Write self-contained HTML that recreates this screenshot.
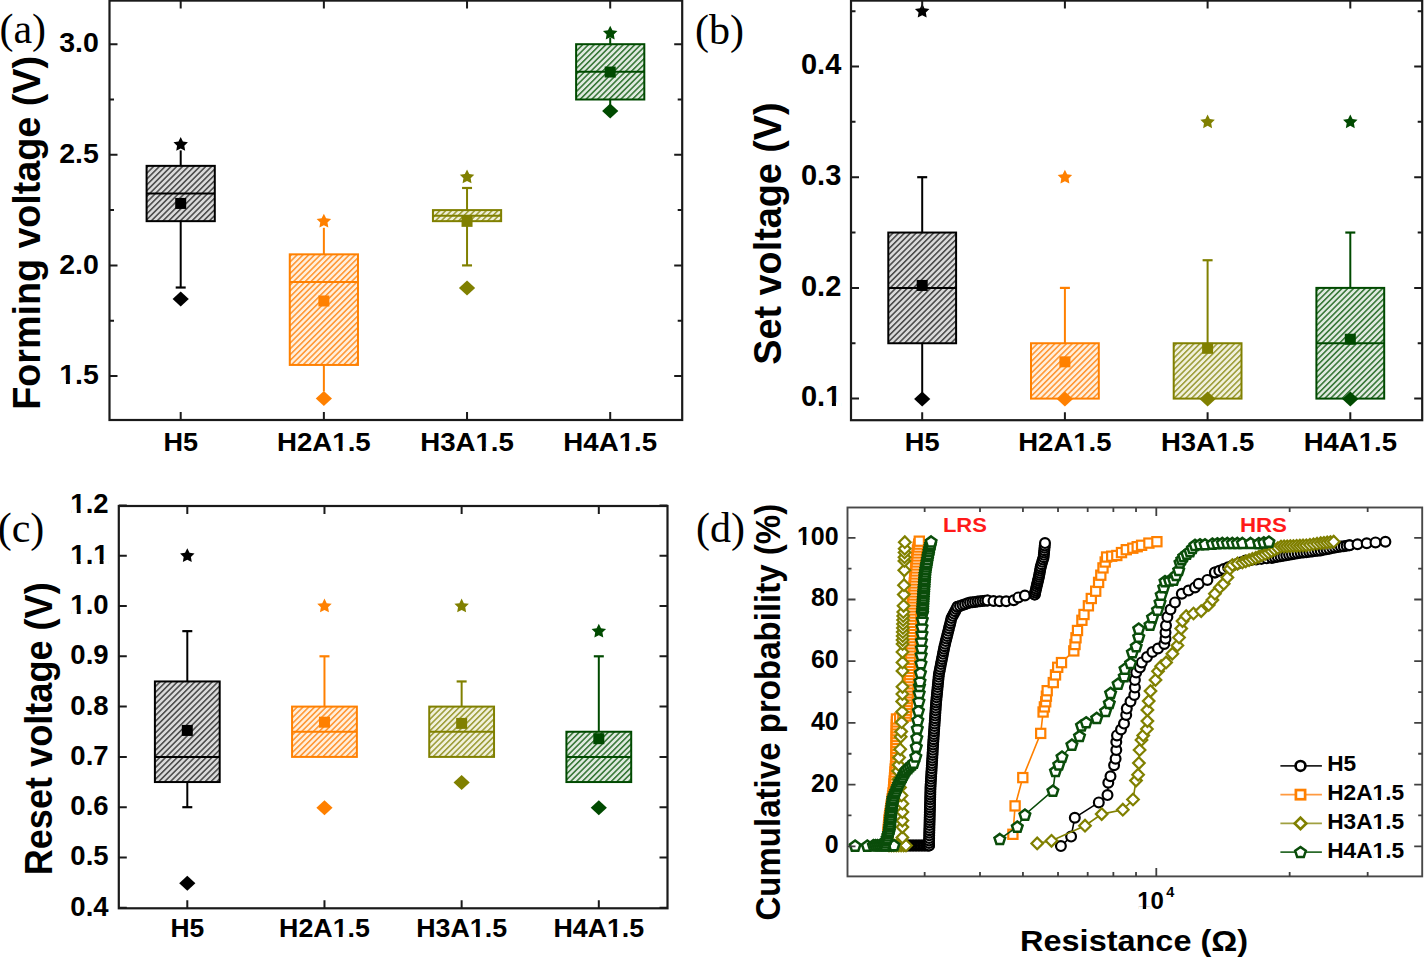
<!DOCTYPE html>
<html><head><meta charset="utf-8"><title>Figure</title>
<style>html,body{margin:0;padding:0;background:#fff;}svg{display:block;}</style>
</head><body>
<svg width="1425" height="961" viewBox="0 0 1425 961">
<rect width="1425" height="961" fill="#fff"/>
<defs>
<pattern id="hk" patternUnits="userSpaceOnUse" width="4.1" height="4.1" patternTransform="rotate(45)"><rect width="4.1" height="4.1" fill="#dadada"/><rect x="0" y="0" width="1.55" height="4.1" fill="#4a4a4a"/></pattern>
<pattern id="ho" patternUnits="userSpaceOnUse" width="4.1" height="4.1" patternTransform="rotate(45)"><rect width="4.1" height="4.1" fill="#ffefdc"/><rect x="0" y="0" width="1.55" height="4.1" fill="#ff9633"/></pattern>
<pattern id="hl" patternUnits="userSpaceOnUse" width="4.1" height="4.1" patternTransform="rotate(45)"><rect width="4.1" height="4.1" fill="#f1f1dc"/><rect x="0" y="0" width="1.55" height="4.1" fill="#9c9c38"/></pattern>
<pattern id="hg" patternUnits="userSpaceOnUse" width="4.1" height="4.1" patternTransform="rotate(45)"><rect width="4.1" height="4.1" fill="#e0eae0"/><rect x="0" y="0" width="1.55" height="4.1" fill="#357535"/></pattern>
</defs>
<g font-family='"Liberation Sans", sans-serif' font-weight="bold" fill="#000">
<line x1="180.7" y1="165.86" x2="180.7" y2="150.38" stroke="#000000" stroke-width="2"/>
<line x1="180.7" y1="221.16" x2="180.7" y2="287.52" stroke="#000000" stroke-width="2"/>
<line x1="175.7" y1="287.52" x2="185.7" y2="287.52" stroke="#000000" stroke-width="2.2"/>
<rect x="146.6" y="165.86" width="68.2" height="55.3" fill="url(#hk)" stroke="#000000" stroke-width="2"/>
<line x1="146.6" y1="193.51" x2="214.8" y2="193.51" stroke="#000000" stroke-width="2"/>
<rect x="175.2" y="197.94" width="11" height="11" fill="#000000"/>
<path d="M180.7,137 L182.93,141.53 L187.93,142.26 L184.31,145.78 L185.17,150.75 L180.7,148.4 L176.23,150.75 L177.09,145.78 L173.47,142.26 L178.47,141.53Z" fill="#000000"/>
<path d="M180.7,291.58 L188.8,299.08 L180.7,306.58 L172.6,299.08 Z" fill="#000000"/>
<line x1="323.87" y1="254.34" x2="323.87" y2="227.8" stroke="#FF8000" stroke-width="2"/>
<line x1="323.87" y1="364.94" x2="323.87" y2="391.48" stroke="#FF8000" stroke-width="2"/>
<rect x="289.77" y="254.34" width="68.2" height="110.6" fill="url(#ho)" stroke="#FF8000" stroke-width="2"/>
<line x1="289.77" y1="281.99" x2="357.97" y2="281.99" stroke="#FF8000" stroke-width="2"/>
<rect x="318.37" y="295.49" width="11" height="11" fill="#FF8000"/>
<path d="M323.87,213.76 L326.1,218.29 L331.1,219.01 L327.48,222.53 L328.34,227.51 L323.87,225.16 L319.4,227.51 L320.26,222.53 L316.64,219.01 L321.64,218.29Z" fill="#FF8000"/>
<path d="M323.87,391.12 L331.97,398.62 L323.87,406.12 L315.77,398.62 Z" fill="#FF8000"/>
<line x1="467.04" y1="210.1" x2="467.04" y2="187.98" stroke="#808000" stroke-width="2"/>
<line x1="462.04" y1="187.98" x2="472.04" y2="187.98" stroke="#808000" stroke-width="2.2"/>
<line x1="467.04" y1="221.16" x2="467.04" y2="265.4" stroke="#808000" stroke-width="2"/>
<line x1="462.04" y1="265.4" x2="472.04" y2="265.4" stroke="#808000" stroke-width="2.2"/>
<rect x="432.94" y="210.1" width="68.2" height="11.06" fill="url(#hl)" stroke="#808000" stroke-width="2"/>
<line x1="432.94" y1="215.63" x2="501.14" y2="215.63" stroke="#808000" stroke-width="2"/>
<rect x="461.54" y="215.86" width="11" height="11" fill="#808000"/>
<path d="M467.04,169.52 L469.27,174.05 L474.27,174.77 L470.65,178.29 L471.51,183.27 L467.04,180.92 L462.57,183.27 L463.43,178.29 L459.81,174.77 L464.81,174.05Z" fill="#808000"/>
<path d="M467.04,280.52 L475.14,288.02 L467.04,295.52 L458.94,288.02 Z" fill="#808000"/>
<line x1="610.21" y1="44.2" x2="610.21" y2="37.56" stroke="#004A00" stroke-width="2"/>
<line x1="610.21" y1="99.5" x2="610.21" y2="106.14" stroke="#004A00" stroke-width="2"/>
<rect x="576.11" y="44.2" width="68.2" height="55.3" fill="url(#hg)" stroke="#004A00" stroke-width="2"/>
<line x1="576.11" y1="71.85" x2="644.31" y2="71.85" stroke="#004A00" stroke-width="2"/>
<rect x="604.71" y="66.55" width="11" height="11" fill="#004A00"/>
<path d="M610.21,25.74 L612.44,30.27 L617.44,30.99 L613.82,34.51 L614.68,39.49 L610.21,37.14 L605.74,39.49 L606.6,34.51 L602.98,30.99 L607.98,30.27Z" fill="#004A00"/>
<path d="M610.21,103.56 L618.31,111.06 L610.21,118.56 L602.11,111.06 Z" fill="#004A00"/>
<rect x="109.5" y="0.6" width="572.7" height="419.4" fill="none" stroke="#1a1a1a" stroke-width="2.2"/>
<path d="M109.5,376h8M682.2,376h-8M109.5,265.4h8M682.2,265.4h-8M109.5,154.8h8M682.2,154.8h-8M109.5,44.2h8M682.2,44.2h-8M109.5,320.7h4.5M682.2,320.7h-4.5M109.5,210.1h4.5M682.2,210.1h-4.5M109.5,99.5h4.5M682.2,99.5h-4.5M180.7,420v-8M180.7,0.6v8M323.87,420v-8M323.87,0.6v8M467.04,420v-8M467.04,0.6v8M610.21,420v-8M610.21,0.6v8" stroke="#1a1a1a" stroke-width="2" fill="none"/>
<text x="98.9" y="384.1" font-size="28.5" text-anchor="end">1.5</text>
<text x="98.9" y="273.5" font-size="28.5" text-anchor="end">2.0</text>
<text x="98.9" y="162.9" font-size="28.5" text-anchor="end">2.5</text>
<text x="98.9" y="52.3" font-size="28.5" text-anchor="end">3.0</text>
<text x="180.7" y="450.9" font-size="26.5" text-anchor="middle" textLength="34.6" lengthAdjust="spacingAndGlyphs">H5</text>
<text x="323.87" y="450.9" font-size="26.5" text-anchor="middle" textLength="93.7" lengthAdjust="spacingAndGlyphs">H2A1.5</text>
<text x="467.04" y="450.9" font-size="26.5" text-anchor="middle" textLength="93.7" lengthAdjust="spacingAndGlyphs">H3A1.5</text>
<text x="610.21" y="450.9" font-size="26.5" text-anchor="middle" textLength="93.7" lengthAdjust="spacingAndGlyphs">H4A1.5</text>
<text transform="translate(39.6,232.9) rotate(-90)" x="0" y="0" font-size="39.5" text-anchor="middle" textLength="353.7" lengthAdjust="spacingAndGlyphs">Forming voltage (V)</text>
<line x1="922.2" y1="232.55" x2="922.2" y2="177.2" stroke="#000000" stroke-width="2"/>
<line x1="917.2" y1="177.2" x2="927.2" y2="177.2" stroke="#000000" stroke-width="2.2"/>
<line x1="922.2" y1="343.25" x2="922.2" y2="393.07" stroke="#000000" stroke-width="2"/>
<rect x="888.3" y="232.55" width="67.8" height="110.7" fill="url(#hk)" stroke="#000000" stroke-width="2"/>
<line x1="888.3" y1="287.9" x2="956.1" y2="287.9" stroke="#000000" stroke-width="2"/>
<rect x="916.7" y="279.94" width="11" height="11" fill="#000000"/>
<path d="M922.2,3.75 L924.43,8.28 L929.43,9 L925.81,12.52 L926.67,17.5 L922.2,15.15 L917.73,17.5 L918.59,12.52 L914.97,9 L919.97,8.28Z" fill="#000000"/>
<path d="M922.2,391.6 L930.3,399.1 L922.2,406.6 L914.1,399.1 Z" fill="#000000"/>
<line x1="1064.9" y1="343.25" x2="1064.9" y2="287.9" stroke="#FF8000" stroke-width="2"/>
<line x1="1059.9" y1="287.9" x2="1069.9" y2="287.9" stroke="#FF8000" stroke-width="2.2"/>
<rect x="1031" y="343.25" width="67.8" height="55.35" fill="url(#ho)" stroke="#FF8000" stroke-width="2"/>
<rect x="1059.4" y="356.33" width="11" height="11" fill="#FF8000"/>
<path d="M1064.9,169.8 L1067.13,174.33 L1072.13,175.05 L1068.51,178.57 L1069.37,183.55 L1064.9,181.2 L1060.43,183.55 L1061.29,178.57 L1057.67,175.05 L1062.67,174.33Z" fill="#FF8000"/>
<path d="M1064.9,391.6 L1073,399.1 L1064.9,406.6 L1056.8,399.1 Z" fill="#FF8000"/>
<line x1="1207.6" y1="343.25" x2="1207.6" y2="260.23" stroke="#808000" stroke-width="2"/>
<line x1="1202.6" y1="260.23" x2="1212.6" y2="260.23" stroke="#808000" stroke-width="2.2"/>
<rect x="1173.7" y="343.25" width="67.8" height="55.35" fill="url(#hl)" stroke="#808000" stroke-width="2"/>
<rect x="1202.1" y="342.82" width="11" height="11" fill="#808000"/>
<path d="M1207.6,114.45 L1209.83,118.98 L1214.83,119.7 L1211.21,123.22 L1212.07,128.2 L1207.6,125.85 L1203.13,128.2 L1203.99,123.22 L1200.37,119.7 L1205.37,118.98Z" fill="#808000"/>
<path d="M1207.6,391.6 L1215.7,399.1 L1207.6,406.6 L1199.5,399.1 Z" fill="#808000"/>
<line x1="1350.3" y1="287.9" x2="1350.3" y2="232.55" stroke="#004A00" stroke-width="2"/>
<line x1="1345.3" y1="232.55" x2="1355.3" y2="232.55" stroke="#004A00" stroke-width="2.2"/>
<rect x="1316.4" y="287.9" width="67.8" height="110.7" fill="url(#hg)" stroke="#004A00" stroke-width="2"/>
<line x1="1316.4" y1="343.25" x2="1384.2" y2="343.25" stroke="#004A00" stroke-width="2"/>
<rect x="1344.8" y="333.74" width="11" height="11" fill="#004A00"/>
<path d="M1350.3,114.45 L1352.53,118.98 L1357.53,119.7 L1353.91,123.22 L1354.77,128.2 L1350.3,125.85 L1345.83,128.2 L1346.69,123.22 L1343.07,119.7 L1348.07,118.98Z" fill="#004A00"/>
<path d="M1350.3,391.6 L1358.4,399.1 L1350.3,406.6 L1342.2,399.1 Z" fill="#004A00"/>
<rect x="851" y="0.6" width="571.2" height="419.6" fill="none" stroke="#1a1a1a" stroke-width="2.2"/>
<path d="M851,398.6h8M1422.2,398.6h-8M851,287.9h8M1422.2,287.9h-8M851,177.2h8M1422.2,177.2h-8M851,66.5h8M1422.2,66.5h-8M851,343.25h4.5M1422.2,343.25h-4.5M851,232.55h4.5M1422.2,232.55h-4.5M851,121.85h4.5M1422.2,121.85h-4.5M851,11.15h4.5M1422.2,11.15h-4.5M922.2,420.2v-8M922.2,0.6v8M1064.9,420.2v-8M1064.9,0.6v8M1207.6,420.2v-8M1207.6,0.6v8M1350.3,420.2v-8M1350.3,0.6v8" stroke="#1a1a1a" stroke-width="2" fill="none"/>
<text x="841.3" y="406.4" font-size="29" text-anchor="end">0.1</text>
<text x="841.3" y="295.7" font-size="29" text-anchor="end">0.2</text>
<text x="841.3" y="185" font-size="29" text-anchor="end">0.3</text>
<text x="841.3" y="74.3" font-size="29" text-anchor="end">0.4</text>
<text x="922.2" y="451.4" font-size="26.5" text-anchor="middle" textLength="34.8" lengthAdjust="spacingAndGlyphs">H5</text>
<text x="1064.9" y="451.4" font-size="26.5" text-anchor="middle" textLength="93.3" lengthAdjust="spacingAndGlyphs">H2A1.5</text>
<text x="1207.6" y="451.4" font-size="26.5" text-anchor="middle" textLength="93.3" lengthAdjust="spacingAndGlyphs">H3A1.5</text>
<text x="1350.3" y="451.4" font-size="26.5" text-anchor="middle" textLength="93.3" lengthAdjust="spacingAndGlyphs">H4A1.5</text>
<text transform="translate(781.2,233.55) rotate(-90)" x="0" y="0" font-size="39.5" text-anchor="middle" textLength="262.3" lengthAdjust="spacingAndGlyphs">Set voltage (V)</text>
<line x1="187.3" y1="681.45" x2="187.3" y2="631.15" stroke="#000000" stroke-width="2"/>
<line x1="182.3" y1="631.15" x2="192.3" y2="631.15" stroke="#000000" stroke-width="2.2"/>
<line x1="187.3" y1="782.05" x2="187.3" y2="807.2" stroke="#000000" stroke-width="2"/>
<line x1="182.3" y1="807.2" x2="192.3" y2="807.2" stroke="#000000" stroke-width="2.2"/>
<rect x="154.9" y="681.45" width="64.8" height="100.6" fill="url(#hk)" stroke="#000000" stroke-width="2"/>
<line x1="154.9" y1="756.9" x2="219.7" y2="756.9" stroke="#000000" stroke-width="2"/>
<rect x="181.8" y="724.94" width="11" height="11" fill="#000000"/>
<path d="M187.3,548.3 L189.53,552.83 L194.53,553.55 L190.91,557.07 L191.77,562.05 L187.3,559.7 L182.83,562.05 L183.69,557.07 L180.07,553.55 L185.07,552.83Z" fill="#000000"/>
<path d="M187.3,875.65 L195.4,883.15 L187.3,890.65 L179.2,883.15 Z" fill="#000000"/>
<line x1="324.47" y1="706.6" x2="324.47" y2="656.3" stroke="#FF8000" stroke-width="2"/>
<line x1="319.47" y1="656.3" x2="329.47" y2="656.3" stroke="#FF8000" stroke-width="2.2"/>
<rect x="292.07" y="706.6" width="64.8" height="50.3" fill="url(#ho)" stroke="#FF8000" stroke-width="2"/>
<line x1="292.07" y1="731.75" x2="356.87" y2="731.75" stroke="#FF8000" stroke-width="2"/>
<rect x="318.97" y="716.69" width="11" height="11" fill="#FF8000"/>
<path d="M324.47,598.6 L326.7,603.13 L331.7,603.85 L328.08,607.37 L328.94,612.35 L324.47,610 L320,612.35 L320.86,607.37 L317.24,603.85 L322.24,603.13Z" fill="#FF8000"/>
<path d="M324.47,800.2 L332.57,807.7 L324.47,815.2 L316.37,807.7 Z" fill="#FF8000"/>
<line x1="461.64" y1="706.6" x2="461.64" y2="681.45" stroke="#808000" stroke-width="2"/>
<line x1="456.64" y1="681.45" x2="466.64" y2="681.45" stroke="#808000" stroke-width="2.2"/>
<rect x="429.24" y="706.6" width="64.8" height="50.3" fill="url(#hl)" stroke="#808000" stroke-width="2"/>
<line x1="429.24" y1="731.75" x2="494.04" y2="731.75" stroke="#808000" stroke-width="2"/>
<rect x="456.14" y="717.9" width="11" height="11" fill="#808000"/>
<path d="M461.64,598.6 L463.87,603.13 L468.87,603.85 L465.25,607.37 L466.11,612.35 L461.64,610 L457.17,612.35 L458.03,607.37 L454.41,603.85 L459.41,603.13Z" fill="#808000"/>
<path d="M461.64,775.05 L469.74,782.55 L461.64,790.05 L453.54,782.55 Z" fill="#808000"/>
<line x1="598.81" y1="731.75" x2="598.81" y2="656.3" stroke="#004A00" stroke-width="2"/>
<line x1="593.81" y1="656.3" x2="603.81" y2="656.3" stroke="#004A00" stroke-width="2.2"/>
<rect x="566.41" y="731.75" width="64.8" height="50.3" fill="url(#hg)" stroke="#004A00" stroke-width="2"/>
<line x1="566.41" y1="756.9" x2="631.21" y2="756.9" stroke="#004A00" stroke-width="2"/>
<rect x="593.31" y="733.19" width="11" height="11" fill="#004A00"/>
<path d="M598.81,623.75 L601.04,628.28 L606.04,629 L602.42,632.52 L603.28,637.5 L598.81,635.15 L594.34,637.5 L595.2,632.52 L591.58,629 L596.58,628.28Z" fill="#004A00"/>
<path d="M598.81,800.2 L606.91,807.7 L598.81,815.2 L590.71,807.7 Z" fill="#004A00"/>
<rect x="118.8" y="506" width="548.7" height="402.3" fill="none" stroke="#1a1a1a" stroke-width="2.2"/>
<path d="M118.8,907.8h8M667.5,907.8h-8M118.8,857.5h8M667.5,857.5h-8M118.8,807.2h8M667.5,807.2h-8M118.8,756.9h8M667.5,756.9h-8M118.8,706.6h8M667.5,706.6h-8M118.8,656.3h8M667.5,656.3h-8M118.8,606h8M667.5,606h-8M118.8,555.7h8M667.5,555.7h-8M118.8,505.4h8M667.5,505.4h-8M187.3,908.3v-8M187.3,506v8M324.47,908.3v-8M324.47,506v8M461.64,908.3v-8M461.64,506v8M598.81,908.3v-8M598.81,506v8" stroke="#1a1a1a" stroke-width="2" fill="none"/>
<text x="108.6" y="915.7" font-size="27.5" text-anchor="end">0.4</text>
<text x="108.6" y="865.4" font-size="27.5" text-anchor="end">0.5</text>
<text x="108.6" y="815.1" font-size="27.5" text-anchor="end">0.6</text>
<text x="108.6" y="764.8" font-size="27.5" text-anchor="end">0.7</text>
<text x="108.6" y="714.5" font-size="27.5" text-anchor="end">0.8</text>
<text x="108.6" y="664.2" font-size="27.5" text-anchor="end">0.9</text>
<text x="108.6" y="613.9" font-size="27.5" text-anchor="end">1.0</text>
<text x="108.6" y="563.6" font-size="27.5" text-anchor="end">1.1</text>
<text x="108.6" y="513.3" font-size="27.5" text-anchor="end">1.2</text>
<text x="187.3" y="937.4" font-size="26" text-anchor="middle" textLength="33.8" lengthAdjust="spacingAndGlyphs">H5</text>
<text x="324.47" y="937.4" font-size="26" text-anchor="middle" textLength="90.8" lengthAdjust="spacingAndGlyphs">H2A1.5</text>
<text x="461.64" y="937.4" font-size="26" text-anchor="middle" textLength="90.8" lengthAdjust="spacingAndGlyphs">H3A1.5</text>
<text x="598.81" y="937.4" font-size="26" text-anchor="middle" textLength="90.8" lengthAdjust="spacingAndGlyphs">H4A1.5</text>
<text transform="translate(52.3,728.8) rotate(-90)" x="0" y="0" font-size="38" text-anchor="middle" textLength="293" lengthAdjust="spacingAndGlyphs">Reset voltage (V)</text>
</g>
<text x="-0.6" y="42.5" font-family='"Liberation Serif", serif' font-size="42" fill="#000">(a)</text>
<text x="695" y="44.4" font-family='"Liberation Serif", serif' font-size="42" fill="#000">(b)</text>
<text x="-2.3" y="541.6" font-family='"Liberation Serif", serif' font-size="42" fill="#000">(c)</text>
<text x="696" y="541.6" font-family='"Liberation Serif", serif' font-size="42" fill="#000">(d)</text>
<defs><clipPath id="dclip"><rect x="847.5" y="507.5" width="574.7" height="368.9"/></clipPath></defs>
<g clip-path="url(#dclip)">
<polyline points="904.5,845.5 929,845.5 929,845.5 929,843 930.5,786.8 933.3,741.8 936.1,702.5 938.9,674.3 944.5,646.2 951.5,618.1 957.5,606.8 957.5,606.8 970,602.5 987.5,600.4 987.5,600.4 993.5,601 999.6,601.2 1006.2,601.2 1013.7,600.2 1018.4,597.4 1024.9,595.5 1034.7,594.6 1034.7,594.6 1037.1,584.3 1038.9,576.8 1040.8,566.5 1043.6,557.2 1045,543.1" fill="none" stroke="#000" stroke-width="1.6"/>
<g fill="#fff" stroke="#000" stroke-width="2.2">
<circle cx="904.5" cy="845.5" r="4.9"/>
<circle cx="906.03" cy="845.5" r="4.9"/>
<circle cx="907.56" cy="845.5" r="4.9"/>
<circle cx="909.09" cy="845.5" r="4.9"/>
<circle cx="910.62" cy="845.5" r="4.9"/>
<circle cx="912.16" cy="845.5" r="4.9"/>
<circle cx="913.69" cy="845.5" r="4.9"/>
<circle cx="915.22" cy="845.5" r="4.9"/>
<circle cx="916.75" cy="845.5" r="4.9"/>
<circle cx="918.28" cy="845.5" r="4.9"/>
<circle cx="919.81" cy="845.5" r="4.9"/>
<circle cx="921.34" cy="845.5" r="4.9"/>
<circle cx="922.88" cy="845.5" r="4.9"/>
<circle cx="924.41" cy="845.5" r="4.9"/>
<circle cx="925.94" cy="845.5" r="4.9"/>
<circle cx="927.47" cy="845.5" r="4.9"/>
<circle cx="929" cy="845.5" r="4.9"/>
<circle cx="929" cy="845.5" r="4.9"/>
<circle cx="929" cy="843" r="4.9"/>
<circle cx="929.07" cy="840.45" r="4.9"/>
<circle cx="929.14" cy="837.89" r="4.9"/>
<circle cx="929.2" cy="835.34" r="4.9"/>
<circle cx="929.27" cy="832.78" r="4.9"/>
<circle cx="929.34" cy="830.23" r="4.9"/>
<circle cx="929.41" cy="827.67" r="4.9"/>
<circle cx="929.48" cy="825.12" r="4.9"/>
<circle cx="929.55" cy="822.56" r="4.9"/>
<circle cx="929.61" cy="820.01" r="4.9"/>
<circle cx="929.68" cy="817.45" r="4.9"/>
<circle cx="929.75" cy="814.9" r="4.9"/>
<circle cx="929.82" cy="812.35" r="4.9"/>
<circle cx="929.89" cy="809.79" r="4.9"/>
<circle cx="929.95" cy="807.24" r="4.9"/>
<circle cx="930.02" cy="804.68" r="4.9"/>
<circle cx="930.09" cy="802.13" r="4.9"/>
<circle cx="930.16" cy="799.57" r="4.9"/>
<circle cx="930.23" cy="797.02" r="4.9"/>
<circle cx="930.3" cy="794.46" r="4.9"/>
<circle cx="930.36" cy="791.91" r="4.9"/>
<circle cx="930.43" cy="789.35" r="4.9"/>
<circle cx="930.5" cy="786.8" r="4.9"/>
<circle cx="930.66" cy="784.15" r="4.9"/>
<circle cx="930.83" cy="781.51" r="4.9"/>
<circle cx="930.99" cy="778.86" r="4.9"/>
<circle cx="931.16" cy="776.21" r="4.9"/>
<circle cx="931.32" cy="773.56" r="4.9"/>
<circle cx="931.49" cy="770.92" r="4.9"/>
<circle cx="931.65" cy="768.27" r="4.9"/>
<circle cx="931.82" cy="765.62" r="4.9"/>
<circle cx="931.98" cy="762.98" r="4.9"/>
<circle cx="932.15" cy="760.33" r="4.9"/>
<circle cx="932.31" cy="757.68" r="4.9"/>
<circle cx="932.48" cy="755.04" r="4.9"/>
<circle cx="932.64" cy="752.39" r="4.9"/>
<circle cx="932.81" cy="749.74" r="4.9"/>
<circle cx="932.97" cy="747.09" r="4.9"/>
<circle cx="933.14" cy="744.45" r="4.9"/>
<circle cx="933.3" cy="741.8" r="4.9"/>
<circle cx="933.49" cy="739.18" r="4.9"/>
<circle cx="933.67" cy="736.56" r="4.9"/>
<circle cx="933.86" cy="733.94" r="4.9"/>
<circle cx="934.05" cy="731.32" r="4.9"/>
<circle cx="934.23" cy="728.7" r="4.9"/>
<circle cx="934.42" cy="726.08" r="4.9"/>
<circle cx="934.61" cy="723.46" r="4.9"/>
<circle cx="934.79" cy="720.84" r="4.9"/>
<circle cx="934.98" cy="718.22" r="4.9"/>
<circle cx="935.17" cy="715.6" r="4.9"/>
<circle cx="935.35" cy="712.98" r="4.9"/>
<circle cx="935.54" cy="710.36" r="4.9"/>
<circle cx="935.73" cy="707.74" r="4.9"/>
<circle cx="935.91" cy="705.12" r="4.9"/>
<circle cx="936.1" cy="702.5" r="4.9"/>
<circle cx="936.35" cy="699.94" r="4.9"/>
<circle cx="936.61" cy="697.37" r="4.9"/>
<circle cx="936.86" cy="694.81" r="4.9"/>
<circle cx="937.12" cy="692.25" r="4.9"/>
<circle cx="937.37" cy="689.68" r="4.9"/>
<circle cx="937.63" cy="687.12" r="4.9"/>
<circle cx="937.88" cy="684.55" r="4.9"/>
<circle cx="938.14" cy="681.99" r="4.9"/>
<circle cx="938.39" cy="679.43" r="4.9"/>
<circle cx="938.65" cy="676.86" r="4.9"/>
<circle cx="938.9" cy="674.3" r="4.9"/>
<circle cx="939.41" cy="671.75" r="4.9"/>
<circle cx="939.92" cy="669.19" r="4.9"/>
<circle cx="940.43" cy="666.64" r="4.9"/>
<circle cx="940.94" cy="664.08" r="4.9"/>
<circle cx="941.45" cy="661.53" r="4.9"/>
<circle cx="941.95" cy="658.97" r="4.9"/>
<circle cx="942.46" cy="656.42" r="4.9"/>
<circle cx="942.97" cy="653.86" r="4.9"/>
<circle cx="943.48" cy="651.31" r="4.9"/>
<circle cx="943.99" cy="648.75" r="4.9"/>
<circle cx="944.5" cy="646.2" r="4.9"/>
<circle cx="945.14" cy="643.65" r="4.9"/>
<circle cx="945.77" cy="641.09" r="4.9"/>
<circle cx="946.41" cy="638.54" r="4.9"/>
<circle cx="947.05" cy="635.98" r="4.9"/>
<circle cx="947.68" cy="633.43" r="4.9"/>
<circle cx="948.32" cy="630.87" r="4.9"/>
<circle cx="948.95" cy="628.32" r="4.9"/>
<circle cx="949.59" cy="625.76" r="4.9"/>
<circle cx="950.23" cy="623.21" r="4.9"/>
<circle cx="950.86" cy="620.65" r="4.9"/>
<circle cx="951.5" cy="618.1" r="4.9"/>
<circle cx="952.7" cy="615.84" r="4.9"/>
<circle cx="953.9" cy="613.58" r="4.9"/>
<circle cx="955.1" cy="611.32" r="4.9"/>
<circle cx="956.3" cy="609.06" r="4.9"/>
<circle cx="957.5" cy="606.8" r="4.9"/>
<circle cx="957.5" cy="606.8" r="4.9"/>
<circle cx="960" cy="605.94" r="4.9"/>
<circle cx="962.5" cy="605.08" r="4.9"/>
<circle cx="965" cy="604.22" r="4.9"/>
<circle cx="967.5" cy="603.36" r="4.9"/>
<circle cx="970" cy="602.5" r="4.9"/>
<circle cx="972.5" cy="602.2" r="4.9"/>
<circle cx="975" cy="601.9" r="4.9"/>
<circle cx="977.5" cy="601.6" r="4.9"/>
<circle cx="980" cy="601.3" r="4.9"/>
<circle cx="982.5" cy="601" r="4.9"/>
<circle cx="985" cy="600.7" r="4.9"/>
<circle cx="987.5" cy="600.4" r="4.9"/>
<circle cx="987.5" cy="600.4" r="4.9"/>
<circle cx="993.5" cy="601" r="4.9"/>
<circle cx="999.6" cy="601.2" r="4.9"/>
<circle cx="1006.2" cy="601.2" r="4.9"/>
<circle cx="1013.7" cy="600.2" r="4.9"/>
<circle cx="1018.4" cy="597.4" r="4.9"/>
<circle cx="1024.9" cy="595.5" r="4.9"/>
<circle cx="1034.7" cy="594.6" r="4.9"/>
<circle cx="1034.7" cy="594.6" r="4.9"/>
<circle cx="1035.18" cy="592.54" r="4.9"/>
<circle cx="1035.66" cy="590.48" r="4.9"/>
<circle cx="1036.14" cy="588.42" r="4.9"/>
<circle cx="1036.62" cy="586.36" r="4.9"/>
<circle cx="1037.1" cy="584.3" r="4.9"/>
<circle cx="1037.55" cy="582.42" r="4.9"/>
<circle cx="1038" cy="580.55" r="4.9"/>
<circle cx="1038.45" cy="578.67" r="4.9"/>
<circle cx="1038.9" cy="576.8" r="4.9"/>
<circle cx="1039.28" cy="574.74" r="4.9"/>
<circle cx="1039.66" cy="572.68" r="4.9"/>
<circle cx="1040.04" cy="570.62" r="4.9"/>
<circle cx="1040.42" cy="568.56" r="4.9"/>
<circle cx="1040.8" cy="566.5" r="4.9"/>
<circle cx="1041.5" cy="564.17" r="4.9"/>
<circle cx="1042.2" cy="561.85" r="4.9"/>
<circle cx="1042.9" cy="559.53" r="4.9"/>
<circle cx="1043.6" cy="557.2" r="4.9"/>
<circle cx="1043.83" cy="554.85" r="4.9"/>
<circle cx="1044.07" cy="552.5" r="4.9"/>
<circle cx="1044.3" cy="550.15" r="4.9"/>
<circle cx="1044.53" cy="547.8" r="4.9"/>
<circle cx="1044.77" cy="545.45" r="4.9"/>
<circle cx="1045" cy="543.1" r="4.9"/>
</g>
<polyline points="1060.9,846.1 1071.1,836.6 1074.8,817.7 1098.8,802.4 1107.5,795.1 1108.3,782.7 1110.5,776.2 1114.1,765.3 1115.6,758.7 1116.3,750 1116.3,742 1117,735.4 1121,729.5 1124,723.6 1126.2,714.9 1126.8,708.6 1130.5,701.5 1134.3,694.9 1134.9,687.4 1134.9,679.9 1136.2,672.4 1139.9,667.4 1141.8,662.4 1147,657 1152.4,652 1158,648.5 1164.3,644 1165.5,638.7 1165.5,632.5 1166,625.5 1167.4,617 1170.5,609.5 1175,602.4 1181.8,593.7 1188.5,590.5 1195,587.4 1198.7,583.7 1207.4,579.9 1214.9,572.4 1214.9,572.4 1245.7,560.5 1272,557.8 1272,557.8 1297.7,553.2 1320.7,550.4 1335.1,547.5 1349.5,545.3 1349.5,545.3 1357.5,544.2 1366.7,543.2 1375.5,542.4 1385.4,541.7" fill="none" stroke="#000" stroke-width="1.6"/>
<g fill="#fff" stroke="#000" stroke-width="2.2">
<circle cx="1060.9" cy="846.1" r="4.9"/>
<circle cx="1071.1" cy="836.6" r="4.9"/>
<circle cx="1074.8" cy="817.7" r="4.9"/>
<circle cx="1098.8" cy="802.4" r="4.9"/>
<circle cx="1107.5" cy="795.1" r="4.9"/>
<circle cx="1108.3" cy="782.7" r="4.9"/>
<circle cx="1110.5" cy="776.2" r="4.9"/>
<circle cx="1114.1" cy="765.3" r="4.9"/>
<circle cx="1115.6" cy="758.7" r="4.9"/>
<circle cx="1116.3" cy="750" r="4.9"/>
<circle cx="1116.3" cy="742" r="4.9"/>
<circle cx="1117" cy="735.4" r="4.9"/>
<circle cx="1121" cy="729.5" r="4.9"/>
<circle cx="1124" cy="723.6" r="4.9"/>
<circle cx="1126.2" cy="714.9" r="4.9"/>
<circle cx="1126.8" cy="708.6" r="4.9"/>
<circle cx="1130.5" cy="701.5" r="4.9"/>
<circle cx="1134.3" cy="694.9" r="4.9"/>
<circle cx="1134.9" cy="687.4" r="4.9"/>
<circle cx="1134.9" cy="679.9" r="4.9"/>
<circle cx="1136.2" cy="672.4" r="4.9"/>
<circle cx="1139.9" cy="667.4" r="4.9"/>
<circle cx="1141.8" cy="662.4" r="4.9"/>
<circle cx="1147" cy="657" r="4.9"/>
<circle cx="1152.4" cy="652" r="4.9"/>
<circle cx="1158" cy="648.5" r="4.9"/>
<circle cx="1164.3" cy="644" r="4.9"/>
<circle cx="1165.5" cy="638.7" r="4.9"/>
<circle cx="1165.5" cy="632.5" r="4.9"/>
<circle cx="1166" cy="625.5" r="4.9"/>
<circle cx="1167.4" cy="617" r="4.9"/>
<circle cx="1170.5" cy="609.5" r="4.9"/>
<circle cx="1175" cy="602.4" r="4.9"/>
<circle cx="1181.8" cy="593.7" r="4.9"/>
<circle cx="1188.5" cy="590.5" r="4.9"/>
<circle cx="1195" cy="587.4" r="4.9"/>
<circle cx="1198.7" cy="583.7" r="4.9"/>
<circle cx="1207.4" cy="579.9" r="4.9"/>
<circle cx="1214.9" cy="572.4" r="4.9"/>
<circle cx="1214.9" cy="572.4" r="4.9"/>
<circle cx="1219.3" cy="570.7" r="4.9"/>
<circle cx="1223.7" cy="569" r="4.9"/>
<circle cx="1228.1" cy="567.3" r="4.9"/>
<circle cx="1232.5" cy="565.6" r="4.9"/>
<circle cx="1236.9" cy="563.9" r="4.9"/>
<circle cx="1241.3" cy="562.2" r="4.9"/>
<circle cx="1245.7" cy="560.5" r="4.9"/>
<circle cx="1250.96" cy="559.96" r="4.9"/>
<circle cx="1256.22" cy="559.42" r="4.9"/>
<circle cx="1261.48" cy="558.88" r="4.9"/>
<circle cx="1266.74" cy="558.34" r="4.9"/>
<circle cx="1272" cy="557.8" r="4.9"/>
<circle cx="1272" cy="557.8" r="4.9"/>
<circle cx="1274.86" cy="557.29" r="4.9"/>
<circle cx="1277.71" cy="556.78" r="4.9"/>
<circle cx="1280.57" cy="556.27" r="4.9"/>
<circle cx="1283.42" cy="555.76" r="4.9"/>
<circle cx="1286.28" cy="555.24" r="4.9"/>
<circle cx="1289.13" cy="554.73" r="4.9"/>
<circle cx="1291.99" cy="554.22" r="4.9"/>
<circle cx="1294.84" cy="553.71" r="4.9"/>
<circle cx="1297.7" cy="553.2" r="4.9"/>
<circle cx="1300.58" cy="552.85" r="4.9"/>
<circle cx="1303.45" cy="552.5" r="4.9"/>
<circle cx="1306.33" cy="552.15" r="4.9"/>
<circle cx="1309.2" cy="551.8" r="4.9"/>
<circle cx="1312.08" cy="551.45" r="4.9"/>
<circle cx="1314.95" cy="551.1" r="4.9"/>
<circle cx="1317.83" cy="550.75" r="4.9"/>
<circle cx="1320.7" cy="550.4" r="4.9"/>
<circle cx="1323.58" cy="549.82" r="4.9"/>
<circle cx="1326.46" cy="549.24" r="4.9"/>
<circle cx="1329.34" cy="548.66" r="4.9"/>
<circle cx="1332.22" cy="548.08" r="4.9"/>
<circle cx="1335.1" cy="547.5" r="4.9"/>
<circle cx="1337.98" cy="547.06" r="4.9"/>
<circle cx="1340.86" cy="546.62" r="4.9"/>
<circle cx="1343.74" cy="546.18" r="4.9"/>
<circle cx="1346.62" cy="545.74" r="4.9"/>
<circle cx="1349.5" cy="545.3" r="4.9"/>
<circle cx="1349.5" cy="545.3" r="4.9"/>
<circle cx="1357.5" cy="544.2" r="4.9"/>
<circle cx="1366.7" cy="543.2" r="4.9"/>
<circle cx="1375.5" cy="542.4" r="4.9"/>
<circle cx="1385.4" cy="541.7" r="4.9"/>
</g>
<polyline points="887,845 889,820 893.5,790 896,760 896.5,719 906,716 908.5,690 910.9,650 911.8,610 914.6,580 917.5,550 919.3,541.2" fill="none" stroke="#FF8000" stroke-width="1.6"/>
<g fill="#fff" stroke="#FF8000" stroke-width="2.2">
<rect x="882.4" y="840.4" width="9.2" height="9.2"/>
<rect x="882.65" y="837.27" width="9.2" height="9.2"/>
<rect x="882.9" y="834.15" width="9.2" height="9.2"/>
<rect x="883.15" y="831.02" width="9.2" height="9.2"/>
<rect x="883.4" y="827.9" width="9.2" height="9.2"/>
<rect x="883.65" y="824.77" width="9.2" height="9.2"/>
<rect x="883.9" y="821.65" width="9.2" height="9.2"/>
<rect x="884.15" y="818.52" width="9.2" height="9.2"/>
<rect x="884.4" y="815.4" width="9.2" height="9.2"/>
<rect x="884.85" y="812.4" width="9.2" height="9.2"/>
<rect x="885.3" y="809.4" width="9.2" height="9.2"/>
<rect x="885.75" y="806.4" width="9.2" height="9.2"/>
<rect x="886.2" y="803.4" width="9.2" height="9.2"/>
<rect x="886.65" y="800.4" width="9.2" height="9.2"/>
<rect x="887.1" y="797.4" width="9.2" height="9.2"/>
<rect x="887.55" y="794.4" width="9.2" height="9.2"/>
<rect x="888" y="791.4" width="9.2" height="9.2"/>
<rect x="888.45" y="788.4" width="9.2" height="9.2"/>
<rect x="888.9" y="785.4" width="9.2" height="9.2"/>
<rect x="889.15" y="782.4" width="9.2" height="9.2"/>
<rect x="889.4" y="779.4" width="9.2" height="9.2"/>
<rect x="889.65" y="776.4" width="9.2" height="9.2"/>
<rect x="889.9" y="773.4" width="9.2" height="9.2"/>
<rect x="890.15" y="770.4" width="9.2" height="9.2"/>
<rect x="890.4" y="767.4" width="9.2" height="9.2"/>
<rect x="890.65" y="764.4" width="9.2" height="9.2"/>
<rect x="890.9" y="761.4" width="9.2" height="9.2"/>
<rect x="891.15" y="758.4" width="9.2" height="9.2"/>
<rect x="891.4" y="755.4" width="9.2" height="9.2"/>
<rect x="891.44" y="752.47" width="9.2" height="9.2"/>
<rect x="891.47" y="749.54" width="9.2" height="9.2"/>
<rect x="891.51" y="746.61" width="9.2" height="9.2"/>
<rect x="891.54" y="743.69" width="9.2" height="9.2"/>
<rect x="891.58" y="740.76" width="9.2" height="9.2"/>
<rect x="891.61" y="737.83" width="9.2" height="9.2"/>
<rect x="891.65" y="734.9" width="9.2" height="9.2"/>
<rect x="891.69" y="731.97" width="9.2" height="9.2"/>
<rect x="891.72" y="729.04" width="9.2" height="9.2"/>
<rect x="891.76" y="726.11" width="9.2" height="9.2"/>
<rect x="891.79" y="723.19" width="9.2" height="9.2"/>
<rect x="891.83" y="720.26" width="9.2" height="9.2"/>
<rect x="891.86" y="717.33" width="9.2" height="9.2"/>
<rect x="891.9" y="714.4" width="9.2" height="9.2"/>
<rect x="895.07" y="713.4" width="9.2" height="9.2"/>
<rect x="898.23" y="712.4" width="9.2" height="9.2"/>
<rect x="901.4" y="711.4" width="9.2" height="9.2"/>
<rect x="901.68" y="708.51" width="9.2" height="9.2"/>
<rect x="901.96" y="705.62" width="9.2" height="9.2"/>
<rect x="902.23" y="702.73" width="9.2" height="9.2"/>
<rect x="902.51" y="699.84" width="9.2" height="9.2"/>
<rect x="902.79" y="696.96" width="9.2" height="9.2"/>
<rect x="903.07" y="694.07" width="9.2" height="9.2"/>
<rect x="903.34" y="691.18" width="9.2" height="9.2"/>
<rect x="903.62" y="688.29" width="9.2" height="9.2"/>
<rect x="903.9" y="685.4" width="9.2" height="9.2"/>
<rect x="904.08" y="682.32" width="9.2" height="9.2"/>
<rect x="904.27" y="679.25" width="9.2" height="9.2"/>
<rect x="904.45" y="676.17" width="9.2" height="9.2"/>
<rect x="904.64" y="673.09" width="9.2" height="9.2"/>
<rect x="904.82" y="670.02" width="9.2" height="9.2"/>
<rect x="905.01" y="666.94" width="9.2" height="9.2"/>
<rect x="905.19" y="663.86" width="9.2" height="9.2"/>
<rect x="905.38" y="660.78" width="9.2" height="9.2"/>
<rect x="905.56" y="657.71" width="9.2" height="9.2"/>
<rect x="905.75" y="654.63" width="9.2" height="9.2"/>
<rect x="905.93" y="651.55" width="9.2" height="9.2"/>
<rect x="906.12" y="648.48" width="9.2" height="9.2"/>
<rect x="906.3" y="645.4" width="9.2" height="9.2"/>
<rect x="906.37" y="642.32" width="9.2" height="9.2"/>
<rect x="906.44" y="639.25" width="9.2" height="9.2"/>
<rect x="906.51" y="636.17" width="9.2" height="9.2"/>
<rect x="906.58" y="633.09" width="9.2" height="9.2"/>
<rect x="906.65" y="630.02" width="9.2" height="9.2"/>
<rect x="906.72" y="626.94" width="9.2" height="9.2"/>
<rect x="906.78" y="623.86" width="9.2" height="9.2"/>
<rect x="906.85" y="620.78" width="9.2" height="9.2"/>
<rect x="906.92" y="617.71" width="9.2" height="9.2"/>
<rect x="906.99" y="614.63" width="9.2" height="9.2"/>
<rect x="907.06" y="611.55" width="9.2" height="9.2"/>
<rect x="907.13" y="608.48" width="9.2" height="9.2"/>
<rect x="907.2" y="605.4" width="9.2" height="9.2"/>
<rect x="907.48" y="602.4" width="9.2" height="9.2"/>
<rect x="907.76" y="599.4" width="9.2" height="9.2"/>
<rect x="908.04" y="596.4" width="9.2" height="9.2"/>
<rect x="908.32" y="593.4" width="9.2" height="9.2"/>
<rect x="908.6" y="590.4" width="9.2" height="9.2"/>
<rect x="908.88" y="587.4" width="9.2" height="9.2"/>
<rect x="909.16" y="584.4" width="9.2" height="9.2"/>
<rect x="909.44" y="581.4" width="9.2" height="9.2"/>
<rect x="909.72" y="578.4" width="9.2" height="9.2"/>
<rect x="910" y="575.4" width="9.2" height="9.2"/>
<rect x="910.29" y="572.4" width="9.2" height="9.2"/>
<rect x="910.58" y="569.4" width="9.2" height="9.2"/>
<rect x="910.87" y="566.4" width="9.2" height="9.2"/>
<rect x="911.16" y="563.4" width="9.2" height="9.2"/>
<rect x="911.45" y="560.4" width="9.2" height="9.2"/>
<rect x="911.74" y="557.4" width="9.2" height="9.2"/>
<rect x="912.03" y="554.4" width="9.2" height="9.2"/>
<rect x="912.32" y="551.4" width="9.2" height="9.2"/>
<rect x="912.61" y="548.4" width="9.2" height="9.2"/>
<rect x="912.9" y="545.4" width="9.2" height="9.2"/>
<rect x="913.5" y="542.47" width="9.2" height="9.2"/>
<rect x="914.1" y="539.53" width="9.2" height="9.2"/>
<rect x="914.7" y="536.6" width="9.2" height="9.2"/>
</g>
<polyline points="1012.9,834.3 1015.1,805.9 1022.8,777.6 1040.7,733.4 1043.1,712 1044.4,706.9 1045.7,701.8 1046.4,696.2 1047.2,690.7 1053.3,682.6 1055.5,674.9 1057.7,667.3 1061.5,662.6 1073.8,650.9 1075,644.5 1076,637.8 1077.5,630.5 1081.9,620.3 1084,614.5 1088.4,605.8 1091.3,598.5 1095.7,591.2 1098.6,582.4 1100.8,575.2 1103,567.9 1105.2,562 1106.6,557 1111.7,556.2 1116.8,555.5 1121.5,552.6 1126.3,549.7 1132.8,548.2 1137.2,546.7 1141.6,545.3 1148.9,543.1 1156.9,541.7" fill="none" stroke="#FF8000" stroke-width="1.6"/>
<g fill="#fff" stroke="#FF8000" stroke-width="2.2">
<rect x="1008.3" y="829.7" width="9.2" height="9.2"/>
<rect x="1010.5" y="801.3" width="9.2" height="9.2"/>
<rect x="1018.2" y="773" width="9.2" height="9.2"/>
<rect x="1036.1" y="728.8" width="9.2" height="9.2"/>
<rect x="1038.5" y="707.4" width="9.2" height="9.2"/>
<rect x="1039.8" y="702.3" width="9.2" height="9.2"/>
<rect x="1041.1" y="697.2" width="9.2" height="9.2"/>
<rect x="1041.8" y="691.6" width="9.2" height="9.2"/>
<rect x="1042.6" y="686.1" width="9.2" height="9.2"/>
<rect x="1048.7" y="678" width="9.2" height="9.2"/>
<rect x="1050.9" y="670.3" width="9.2" height="9.2"/>
<rect x="1053.1" y="662.7" width="9.2" height="9.2"/>
<rect x="1056.9" y="658" width="9.2" height="9.2"/>
<rect x="1069.2" y="646.3" width="9.2" height="9.2"/>
<rect x="1070.4" y="639.9" width="9.2" height="9.2"/>
<rect x="1071.4" y="633.2" width="9.2" height="9.2"/>
<rect x="1072.9" y="625.9" width="9.2" height="9.2"/>
<rect x="1077.3" y="615.7" width="9.2" height="9.2"/>
<rect x="1079.4" y="609.9" width="9.2" height="9.2"/>
<rect x="1083.8" y="601.2" width="9.2" height="9.2"/>
<rect x="1086.7" y="593.9" width="9.2" height="9.2"/>
<rect x="1091.1" y="586.6" width="9.2" height="9.2"/>
<rect x="1094" y="577.8" width="9.2" height="9.2"/>
<rect x="1096.2" y="570.6" width="9.2" height="9.2"/>
<rect x="1098.4" y="563.3" width="9.2" height="9.2"/>
<rect x="1100.6" y="557.4" width="9.2" height="9.2"/>
<rect x="1102" y="552.4" width="9.2" height="9.2"/>
<rect x="1107.1" y="551.6" width="9.2" height="9.2"/>
<rect x="1112.2" y="550.9" width="9.2" height="9.2"/>
<rect x="1116.9" y="548" width="9.2" height="9.2"/>
<rect x="1121.7" y="545.1" width="9.2" height="9.2"/>
<rect x="1128.2" y="543.6" width="9.2" height="9.2"/>
<rect x="1132.6" y="542.1" width="9.2" height="9.2"/>
<rect x="1137" y="540.7" width="9.2" height="9.2"/>
<rect x="1144.3" y="538.5" width="9.2" height="9.2"/>
<rect x="1152.3" y="537.1" width="9.2" height="9.2"/>
</g>
<polyline points="889,845.5 906,845.5 902.4,837.4 902.4,827.1 902.4,820.6 902.4,812.1 902.4,803.7 901.5,795.5 900,787.5 898.7,779.3 898.1,771.1 898.6,764.9 899.1,757.6 900.2,749.3 900.7,736.8 901.2,731.6 901.7,722.2 902.2,711.8 902.2,701.4 902.4,694 902.5,686.8 902.5,670.9 902.5,662.4 902.5,652 902.6,644 902.6,640 902.7,636 902.8,632 902.9,628 903,624 903.1,620 903.2,616 903.3,612 903.6,605.8 903.8,594.6 904,585.2 904.3,570.3 904.4,560.9 904.5,557.2 904.6,552.5 904.7,548.7 904.8,542.2" fill="none" stroke="#808000" stroke-width="1.6"/>
<g fill="#fff" stroke="#808000" stroke-width="2.2">
<path d="M889,839.7 L894.8,845.5 L889,851.3 L883.2,845.5 Z"/>
<path d="M891.43,839.7 L897.23,845.5 L891.43,851.3 L885.63,845.5 Z"/>
<path d="M893.86,839.7 L899.66,845.5 L893.86,851.3 L888.06,845.5 Z"/>
<path d="M896.29,839.7 L902.09,845.5 L896.29,851.3 L890.49,845.5 Z"/>
<path d="M898.71,839.7 L904.51,845.5 L898.71,851.3 L892.91,845.5 Z"/>
<path d="M901.14,839.7 L906.94,845.5 L901.14,851.3 L895.34,845.5 Z"/>
<path d="M903.57,839.7 L909.37,845.5 L903.57,851.3 L897.77,845.5 Z"/>
<path d="M906,839.7 L911.8,845.5 L906,851.3 L900.2,845.5 Z"/>
<path d="M902.4,831.6 L908.2,837.4 L902.4,843.2 L896.6,837.4 Z"/>
<path d="M902.4,821.3 L908.2,827.1 L902.4,832.9 L896.6,827.1 Z"/>
<path d="M902.4,814.8 L908.2,820.6 L902.4,826.4 L896.6,820.6 Z"/>
<path d="M902.4,806.3 L908.2,812.1 L902.4,817.9 L896.6,812.1 Z"/>
<path d="M902.4,797.9 L908.2,803.7 L902.4,809.5 L896.6,803.7 Z"/>
<path d="M901.5,789.7 L907.3,795.5 L901.5,801.3 L895.7,795.5 Z"/>
<path d="M900,781.7 L905.8,787.5 L900,793.3 L894.2,787.5 Z"/>
<path d="M898.7,773.5 L904.5,779.3 L898.7,785.1 L892.9,779.3 Z"/>
<path d="M898.1,765.3 L903.9,771.1 L898.1,776.9 L892.3,771.1 Z"/>
<path d="M898.6,759.1 L904.4,764.9 L898.6,770.7 L892.8,764.9 Z"/>
<path d="M899.1,751.8 L904.9,757.6 L899.1,763.4 L893.3,757.6 Z"/>
<path d="M900.2,743.5 L906,749.3 L900.2,755.1 L894.4,749.3 Z"/>
<path d="M900.7,731 L906.5,736.8 L900.7,742.6 L894.9,736.8 Z"/>
<path d="M901.2,725.8 L907,731.6 L901.2,737.4 L895.4,731.6 Z"/>
<path d="M901.7,716.4 L907.5,722.2 L901.7,728 L895.9,722.2 Z"/>
<path d="M902.2,706 L908,711.8 L902.2,717.6 L896.4,711.8 Z"/>
<path d="M902.2,695.6 L908,701.4 L902.2,707.2 L896.4,701.4 Z"/>
<path d="M902.4,688.2 L908.2,694 L902.4,699.8 L896.6,694 Z"/>
<path d="M902.5,681 L908.3,686.8 L902.5,692.6 L896.7,686.8 Z"/>
<path d="M902.5,665.1 L908.3,670.9 L902.5,676.7 L896.7,670.9 Z"/>
<path d="M902.5,656.6 L908.3,662.4 L902.5,668.2 L896.7,662.4 Z"/>
<path d="M902.5,646.2 L908.3,652 L902.5,657.8 L896.7,652 Z"/>
<path d="M902.6,638.2 L908.4,644 L902.6,649.8 L896.8,644 Z"/>
<path d="M902.6,634.2 L908.4,640 L902.6,645.8 L896.8,640 Z"/>
<path d="M902.7,630.2 L908.5,636 L902.7,641.8 L896.9,636 Z"/>
<path d="M902.8,626.2 L908.6,632 L902.8,637.8 L897,632 Z"/>
<path d="M902.9,622.2 L908.7,628 L902.9,633.8 L897.1,628 Z"/>
<path d="M903,618.2 L908.8,624 L903,629.8 L897.2,624 Z"/>
<path d="M903.1,614.2 L908.9,620 L903.1,625.8 L897.3,620 Z"/>
<path d="M903.2,610.2 L909,616 L903.2,621.8 L897.4,616 Z"/>
<path d="M903.3,606.2 L909.1,612 L903.3,617.8 L897.5,612 Z"/>
<path d="M903.6,600 L909.4,605.8 L903.6,611.6 L897.8,605.8 Z"/>
<path d="M903.8,588.8 L909.6,594.6 L903.8,600.4 L898,594.6 Z"/>
<path d="M904,579.4 L909.8,585.2 L904,591 L898.2,585.2 Z"/>
<path d="M904.3,564.5 L910.1,570.3 L904.3,576.1 L898.5,570.3 Z"/>
<path d="M904.4,555.1 L910.2,560.9 L904.4,566.7 L898.6,560.9 Z"/>
<path d="M904.5,551.4 L910.3,557.2 L904.5,563 L898.7,557.2 Z"/>
<path d="M904.6,546.7 L910.4,552.5 L904.6,558.3 L898.8,552.5 Z"/>
<path d="M904.7,542.9 L910.5,548.7 L904.7,554.5 L898.9,548.7 Z"/>
<path d="M904.8,536.4 L910.6,542.2 L904.8,548 L899,542.2 Z"/>
</g>
<polyline points="1037.2,843.4 1051.5,840.8 1085,825.7 1101.7,814.1 1122.8,809.7 1133,799.5 1136,780.6 1138.1,774.7 1138.9,763.1 1139.6,750 1141.5,740 1143.2,735.4 1146.9,729 1147.4,721.1 1147.4,709.9 1148.7,701.1 1150.5,691.1 1155.5,679.9 1158,671.2 1161.2,666.2 1166.1,662.4 1172.4,653.7 1177.4,645.5 1179,637.5 1181.2,628.6 1182.5,621.1 1186.2,616.1 1193.5,613.5 1201.2,611.1 1208.7,604.9 1212.4,599.9 1214.9,593.7 1219.9,587.4 1223.7,583.7 1227.4,577.4 1229.9,568.7 1232.4,565 1237.5,563.6 1237.5,563.6 1242.4,562.5 1255.8,557.8 1268.4,552.7 1281,546.5 1293.4,546 1306.3,545.3 1320.7,543.2 1333.7,541.7" fill="none" stroke="#808000" stroke-width="1.6"/>
<g fill="#fff" stroke="#808000" stroke-width="2.2">
<path d="M1037.2,837.6 L1043,843.4 L1037.2,849.2 L1031.4,843.4 Z"/>
<path d="M1051.5,835 L1057.3,840.8 L1051.5,846.6 L1045.7,840.8 Z"/>
<path d="M1085,819.9 L1090.8,825.7 L1085,831.5 L1079.2,825.7 Z"/>
<path d="M1101.7,808.3 L1107.5,814.1 L1101.7,819.9 L1095.9,814.1 Z"/>
<path d="M1122.8,803.9 L1128.6,809.7 L1122.8,815.5 L1117,809.7 Z"/>
<path d="M1133,793.7 L1138.8,799.5 L1133,805.3 L1127.2,799.5 Z"/>
<path d="M1136,774.8 L1141.8,780.6 L1136,786.4 L1130.2,780.6 Z"/>
<path d="M1138.1,768.9 L1143.9,774.7 L1138.1,780.5 L1132.3,774.7 Z"/>
<path d="M1138.9,757.3 L1144.7,763.1 L1138.9,768.9 L1133.1,763.1 Z"/>
<path d="M1139.6,744.2 L1145.4,750 L1139.6,755.8 L1133.8,750 Z"/>
<path d="M1141.5,734.2 L1147.3,740 L1141.5,745.8 L1135.7,740 Z"/>
<path d="M1143.2,729.6 L1149,735.4 L1143.2,741.2 L1137.4,735.4 Z"/>
<path d="M1146.9,723.2 L1152.7,729 L1146.9,734.8 L1141.1,729 Z"/>
<path d="M1147.4,715.3 L1153.2,721.1 L1147.4,726.9 L1141.6,721.1 Z"/>
<path d="M1147.4,704.1 L1153.2,709.9 L1147.4,715.7 L1141.6,709.9 Z"/>
<path d="M1148.7,695.3 L1154.5,701.1 L1148.7,706.9 L1142.9,701.1 Z"/>
<path d="M1150.5,685.3 L1156.3,691.1 L1150.5,696.9 L1144.7,691.1 Z"/>
<path d="M1155.5,674.1 L1161.3,679.9 L1155.5,685.7 L1149.7,679.9 Z"/>
<path d="M1158,665.4 L1163.8,671.2 L1158,677 L1152.2,671.2 Z"/>
<path d="M1161.2,660.4 L1167,666.2 L1161.2,672 L1155.4,666.2 Z"/>
<path d="M1166.1,656.6 L1171.9,662.4 L1166.1,668.2 L1160.3,662.4 Z"/>
<path d="M1172.4,647.9 L1178.2,653.7 L1172.4,659.5 L1166.6,653.7 Z"/>
<path d="M1177.4,639.7 L1183.2,645.5 L1177.4,651.3 L1171.6,645.5 Z"/>
<path d="M1179,631.7 L1184.8,637.5 L1179,643.3 L1173.2,637.5 Z"/>
<path d="M1181.2,622.8 L1187,628.6 L1181.2,634.4 L1175.4,628.6 Z"/>
<path d="M1182.5,615.3 L1188.3,621.1 L1182.5,626.9 L1176.7,621.1 Z"/>
<path d="M1186.2,610.3 L1192,616.1 L1186.2,621.9 L1180.4,616.1 Z"/>
<path d="M1193.5,607.7 L1199.3,613.5 L1193.5,619.3 L1187.7,613.5 Z"/>
<path d="M1201.2,605.3 L1207,611.1 L1201.2,616.9 L1195.4,611.1 Z"/>
<path d="M1208.7,599.1 L1214.5,604.9 L1208.7,610.7 L1202.9,604.9 Z"/>
<path d="M1212.4,594.1 L1218.2,599.9 L1212.4,605.7 L1206.6,599.9 Z"/>
<path d="M1214.9,587.9 L1220.7,593.7 L1214.9,599.5 L1209.1,593.7 Z"/>
<path d="M1219.9,581.6 L1225.7,587.4 L1219.9,593.2 L1214.1,587.4 Z"/>
<path d="M1223.7,577.9 L1229.5,583.7 L1223.7,589.5 L1217.9,583.7 Z"/>
<path d="M1227.4,571.6 L1233.2,577.4 L1227.4,583.2 L1221.6,577.4 Z"/>
<path d="M1229.9,562.9 L1235.7,568.7 L1229.9,574.5 L1224.1,568.7 Z"/>
<path d="M1232.4,559.2 L1238.2,565 L1232.4,570.8 L1226.6,565 Z"/>
<path d="M1237.5,557.8 L1243.3,563.6 L1237.5,569.4 L1231.7,563.6 Z"/>
<path d="M1237.5,557.8 L1243.3,563.6 L1237.5,569.4 L1231.7,563.6 Z"/>
<path d="M1242.4,556.7 L1248.2,562.5 L1242.4,568.3 L1236.6,562.5 Z"/>
<path d="M1245.75,555.53 L1251.55,561.33 L1245.75,567.12 L1239.95,561.33 Z"/>
<path d="M1249.1,554.35 L1254.9,560.15 L1249.1,565.95 L1243.3,560.15 Z"/>
<path d="M1252.45,553.17 L1258.25,558.97 L1252.45,564.77 L1246.65,558.97 Z"/>
<path d="M1255.8,552 L1261.6,557.8 L1255.8,563.6 L1250,557.8 Z"/>
<path d="M1258.95,550.73 L1264.75,556.52 L1258.95,562.32 L1253.15,556.52 Z"/>
<path d="M1262.1,549.45 L1267.9,555.25 L1262.1,561.05 L1256.3,555.25 Z"/>
<path d="M1265.25,548.18 L1271.05,553.98 L1265.25,559.77 L1259.45,553.98 Z"/>
<path d="M1268.4,546.9 L1274.2,552.7 L1268.4,558.5 L1262.6,552.7 Z"/>
<path d="M1271.55,545.35 L1277.35,551.15 L1271.55,556.95 L1265.75,551.15 Z"/>
<path d="M1274.7,543.8 L1280.5,549.6 L1274.7,555.4 L1268.9,549.6 Z"/>
<path d="M1277.85,542.25 L1283.65,548.05 L1277.85,553.85 L1272.05,548.05 Z"/>
<path d="M1281,540.7 L1286.8,546.5 L1281,552.3 L1275.2,546.5 Z"/>
<path d="M1284.1,540.58 L1289.9,546.38 L1284.1,552.17 L1278.3,546.38 Z"/>
<path d="M1287.2,540.45 L1293,546.25 L1287.2,552.05 L1281.4,546.25 Z"/>
<path d="M1290.3,540.33 L1296.1,546.12 L1290.3,551.92 L1284.5,546.12 Z"/>
<path d="M1293.4,540.2 L1299.2,546 L1293.4,551.8 L1287.6,546 Z"/>
<path d="M1296.62,540.03 L1302.42,545.83 L1296.62,551.62 L1290.83,545.83 Z"/>
<path d="M1299.85,539.85 L1305.65,545.65 L1299.85,551.45 L1294.05,545.65 Z"/>
<path d="M1303.08,539.67 L1308.88,545.47 L1303.08,551.27 L1297.28,545.47 Z"/>
<path d="M1306.3,539.5 L1312.1,545.3 L1306.3,551.1 L1300.5,545.3 Z"/>
<path d="M1309.9,538.98 L1315.7,544.77 L1309.9,550.57 L1304.1,544.77 Z"/>
<path d="M1313.5,538.45 L1319.3,544.25 L1313.5,550.05 L1307.7,544.25 Z"/>
<path d="M1317.1,537.93 L1322.9,543.73 L1317.1,549.52 L1311.3,543.73 Z"/>
<path d="M1320.7,537.4 L1326.5,543.2 L1320.7,549 L1314.9,543.2 Z"/>
<path d="M1323.95,537.03 L1329.75,542.83 L1323.95,548.62 L1318.15,542.83 Z"/>
<path d="M1327.2,536.65 L1333,542.45 L1327.2,548.25 L1321.4,542.45 Z"/>
<path d="M1330.45,536.28 L1336.25,542.08 L1330.45,547.88 L1324.65,542.08 Z"/>
<path d="M1333.7,535.9 L1339.5,541.7 L1333.7,547.5 L1327.9,541.7 Z"/>
</g>
<polyline points="855.1,845.8 867.3,845.8 873.4,845.3 894,845.3 885,845 889.3,830.9 891.2,812.1 893.1,798 898.7,784 906.2,770 913.7,762.8 915.8,756.6 916.3,746.7 916.8,737.8 917.3,728.5 917.8,720.2 918.4,710.8 918.9,701.4 919.2,693.1 919.5,686 920,681.2 920.5,672.7 921,663.4 921.2,655 921.5,648 921.5,640.9 922,633.5 922,626.9 922.3,619.5 922.5,612.8 922.5,612.8 923.5,595.5 925,574 927,561.8 929,551 931.1,541.6" fill="none" stroke="#0a4d0a" stroke-width="1.6"/>
<g fill="#fff" stroke="#0a4d0a" stroke-width="2.2">
<path d="M855.1,840.6 L860.43,844.47 L858.39,850.73 L851.81,850.73 L849.77,844.47Z" stroke-width="2.5"/>
<path d="M867.3,840.6 L872.63,844.47 L870.59,850.73 L864.01,850.73 L861.97,844.47Z" stroke-width="2.5"/>
<path d="M873.4,840.1 L878.73,843.97 L876.69,850.23 L870.11,850.23 L868.07,843.97Z" stroke-width="2.5"/>
<path d="M875.46,840.1 L880.79,843.97 L878.75,850.23 L872.17,850.23 L870.13,843.97Z" stroke-width="2.5"/>
<path d="M877.52,840.1 L882.85,843.97 L880.81,850.23 L874.23,850.23 L872.19,843.97Z" stroke-width="2.5"/>
<path d="M879.58,840.1 L884.91,843.97 L882.87,850.23 L876.29,850.23 L874.25,843.97Z" stroke-width="2.5"/>
<path d="M881.64,840.1 L886.97,843.97 L884.93,850.23 L878.35,850.23 L876.31,843.97Z" stroke-width="2.5"/>
<path d="M883.7,840.1 L889.03,843.97 L886.99,850.23 L880.41,850.23 L878.37,843.97Z" stroke-width="2.5"/>
<path d="M885.76,840.1 L891.09,843.97 L889.05,850.23 L882.47,850.23 L880.43,843.97Z" stroke-width="2.5"/>
<path d="M887.82,840.1 L893.15,843.97 L891.11,850.23 L884.53,850.23 L882.49,843.97Z" stroke-width="2.5"/>
<path d="M889.88,840.1 L895.21,843.97 L893.17,850.23 L886.59,850.23 L884.55,843.97Z" stroke-width="2.5"/>
<path d="M891.94,840.1 L897.27,843.97 L895.23,850.23 L888.65,850.23 L886.61,843.97Z" stroke-width="2.5"/>
<path d="M894,840.1 L899.33,843.97 L897.29,850.23 L890.71,850.23 L888.67,843.97Z" stroke-width="2.5"/>
<path d="M885,839.8 L890.33,843.67 L888.29,849.93 L881.71,849.93 L879.67,843.67Z" stroke-width="2.5"/>
<path d="M885.72,837.45 L891.04,841.32 L889.01,847.58 L882.43,847.58 L880.39,841.32Z" stroke-width="2.5"/>
<path d="M886.43,835.1 L891.76,838.97 L889.72,845.23 L883.14,845.23 L881.11,838.97Z" stroke-width="2.5"/>
<path d="M887.15,832.75 L892.48,836.62 L890.44,842.88 L883.86,842.88 L881.82,836.62Z" stroke-width="2.5"/>
<path d="M887.87,830.4 L893.19,834.27 L891.16,840.53 L884.58,840.53 L882.54,834.27Z" stroke-width="2.5"/>
<path d="M888.58,828.05 L893.91,831.92 L891.87,838.18 L885.29,838.18 L883.26,831.92Z" stroke-width="2.5"/>
<path d="M889.3,825.7 L894.63,829.57 L892.59,835.83 L886.01,835.83 L883.97,829.57Z" stroke-width="2.5"/>
<path d="M889.54,823.35 L894.86,827.22 L892.83,833.48 L886.25,833.48 L884.21,827.22Z" stroke-width="2.5"/>
<path d="M889.77,821 L895.1,824.87 L893.07,831.13 L886.48,831.13 L884.45,824.87Z" stroke-width="2.5"/>
<path d="M890.01,818.65 L895.34,822.52 L893.3,828.78 L886.72,828.78 L884.69,822.52Z" stroke-width="2.5"/>
<path d="M890.25,816.3 L895.58,820.17 L893.54,826.43 L886.96,826.43 L884.92,820.17Z" stroke-width="2.5"/>
<path d="M890.49,813.95 L895.81,817.82 L893.78,824.08 L887.2,824.08 L885.16,817.82Z" stroke-width="2.5"/>
<path d="M890.73,811.6 L896.05,815.47 L894.02,821.73 L887.43,821.73 L885.4,815.47Z" stroke-width="2.5"/>
<path d="M890.96,809.25 L896.29,813.12 L894.25,819.38 L887.67,819.38 L885.64,813.12Z" stroke-width="2.5"/>
<path d="M891.2,806.9 L896.53,810.77 L894.49,817.03 L887.91,817.03 L885.87,810.77Z" stroke-width="2.5"/>
<path d="M891.52,804.55 L896.84,808.42 L894.81,814.68 L888.23,814.68 L886.19,808.42Z" stroke-width="2.5"/>
<path d="M891.83,802.2 L897.16,806.07 L895.12,812.33 L888.54,812.33 L886.51,806.07Z" stroke-width="2.5"/>
<path d="M892.15,799.85 L897.48,803.72 L895.44,809.98 L888.86,809.98 L886.82,803.72Z" stroke-width="2.5"/>
<path d="M892.47,797.5 L897.79,801.37 L895.76,807.63 L889.18,807.63 L887.14,801.37Z" stroke-width="2.5"/>
<path d="M892.78,795.15 L898.11,799.02 L896.07,805.28 L889.49,805.28 L887.46,799.02Z" stroke-width="2.5"/>
<path d="M893.1,792.8 L898.43,796.67 L896.39,802.93 L889.81,802.93 L887.77,796.67Z" stroke-width="2.5"/>
<path d="M894.03,790.47 L899.36,794.34 L897.32,800.6 L890.74,800.6 L888.71,794.34Z" stroke-width="2.5"/>
<path d="M894.97,788.13 L900.29,792 L898.26,798.26 L891.68,798.26 L889.64,792Z" stroke-width="2.5"/>
<path d="M895.9,785.8 L901.23,789.67 L899.19,795.93 L892.61,795.93 L890.57,789.67Z" stroke-width="2.5"/>
<path d="M896.83,783.47 L902.16,787.34 L900.12,793.6 L893.54,793.6 L891.51,787.34Z" stroke-width="2.5"/>
<path d="M897.77,781.13 L903.09,785 L901.06,791.26 L894.48,791.26 L892.44,785Z" stroke-width="2.5"/>
<path d="M898.7,778.8 L904.03,782.67 L901.99,788.93 L895.41,788.93 L893.37,782.67Z" stroke-width="2.5"/>
<path d="M899.95,776.47 L905.28,780.34 L903.24,786.6 L896.66,786.6 L894.62,780.34Z" stroke-width="2.5"/>
<path d="M901.2,774.13 L906.53,778 L904.49,784.26 L897.91,784.26 L895.87,778Z" stroke-width="2.5"/>
<path d="M902.45,771.8 L907.78,775.67 L905.74,781.93 L899.16,781.93 L897.12,775.67Z" stroke-width="2.5"/>
<path d="M903.7,769.47 L909.03,773.34 L906.99,779.6 L900.41,779.6 L898.37,773.34Z" stroke-width="2.5"/>
<path d="M904.95,767.13 L910.28,771 L908.24,777.26 L901.66,777.26 L899.62,771Z" stroke-width="2.5"/>
<path d="M906.2,764.8 L911.53,768.67 L909.49,774.93 L902.91,774.93 L900.87,768.67Z" stroke-width="2.5"/>
<path d="M908.08,763 L913.4,766.87 L911.37,773.13 L904.78,773.13 L902.75,766.87Z" stroke-width="2.5"/>
<path d="M909.95,761.2 L915.28,765.07 L913.24,771.33 L906.66,771.33 L904.62,765.07Z" stroke-width="2.5"/>
<path d="M911.83,759.4 L917.15,763.27 L915.12,769.53 L908.53,769.53 L906.5,763.27Z" stroke-width="2.5"/>
<path d="M913.7,757.6 L919.03,761.47 L916.99,767.73 L910.41,767.73 L908.37,761.47Z" stroke-width="2.5"/>
<path d="M915.8,751.4 L921.13,755.27 L919.09,761.53 L912.51,761.53 L910.47,755.27Z" stroke-width="2.5"/>
<path d="M916.3,741.5 L921.63,745.37 L919.59,751.63 L913.01,751.63 L910.97,745.37Z" stroke-width="2.5"/>
<path d="M916.8,732.6 L922.13,736.47 L920.09,742.73 L913.51,742.73 L911.47,736.47Z" stroke-width="2.5"/>
<path d="M917.3,723.3 L922.63,727.17 L920.59,733.43 L914.01,733.43 L911.97,727.17Z" stroke-width="2.5"/>
<path d="M917.8,715 L923.13,718.87 L921.09,725.13 L914.51,725.13 L912.47,718.87Z" stroke-width="2.5"/>
<path d="M918.4,705.6 L923.73,709.47 L921.69,715.73 L915.11,715.73 L913.07,709.47Z" stroke-width="2.5"/>
<path d="M918.9,696.2 L924.23,700.07 L922.19,706.33 L915.61,706.33 L913.57,700.07Z" stroke-width="2.5"/>
<path d="M919.2,687.9 L924.53,691.77 L922.49,698.03 L915.91,698.03 L913.87,691.77Z" stroke-width="2.5"/>
<path d="M919.5,680.8 L924.83,684.67 L922.79,690.93 L916.21,690.93 L914.17,684.67Z" stroke-width="2.5"/>
<path d="M920,676 L925.33,679.87 L923.29,686.13 L916.71,686.13 L914.67,679.87Z" stroke-width="2.5"/>
<path d="M920.5,667.5 L925.83,671.37 L923.79,677.63 L917.21,677.63 L915.17,671.37Z" stroke-width="2.5"/>
<path d="M921,658.2 L926.33,662.07 L924.29,668.33 L917.71,668.33 L915.67,662.07Z" stroke-width="2.5"/>
<path d="M921.2,649.8 L926.53,653.67 L924.49,659.93 L917.91,659.93 L915.87,653.67Z" stroke-width="2.5"/>
<path d="M921.5,642.8 L926.83,646.67 L924.79,652.93 L918.21,652.93 L916.17,646.67Z" stroke-width="2.5"/>
<path d="M921.5,635.7 L926.83,639.57 L924.79,645.83 L918.21,645.83 L916.17,639.57Z" stroke-width="2.5"/>
<path d="M922,628.3 L927.33,632.17 L925.29,638.43 L918.71,638.43 L916.67,632.17Z" stroke-width="2.5"/>
<path d="M922,621.7 L927.33,625.57 L925.29,631.83 L918.71,631.83 L916.67,625.57Z" stroke-width="2.5"/>
<path d="M922.3,614.3 L927.63,618.17 L925.59,624.43 L919.01,624.43 L916.97,618.17Z" stroke-width="2.5"/>
<path d="M922.5,607.6 L927.83,611.47 L925.79,617.73 L919.21,617.73 L917.17,611.47Z" stroke-width="2.5"/>
<path d="M922.5,607.6 L927.83,611.47 L925.79,617.73 L919.21,617.73 L917.17,611.47Z" stroke-width="2.5"/>
<path d="M922.64,605.13 L927.97,609 L925.93,615.26 L919.35,615.26 L917.32,609Z" stroke-width="2.5"/>
<path d="M922.79,602.66 L928.11,606.53 L926.08,612.79 L919.49,612.79 L917.46,606.53Z" stroke-width="2.5"/>
<path d="M922.93,600.19 L928.25,604.06 L926.22,610.32 L919.64,610.32 L917.6,604.06Z" stroke-width="2.5"/>
<path d="M923.07,597.71 L928.4,601.58 L926.36,607.84 L919.78,607.84 L917.75,601.58Z" stroke-width="2.5"/>
<path d="M923.21,595.24 L928.54,599.11 L926.51,605.37 L919.92,605.37 L917.89,599.11Z" stroke-width="2.5"/>
<path d="M923.36,592.77 L928.68,596.64 L926.65,602.9 L920.07,602.9 L918.03,596.64Z" stroke-width="2.5"/>
<path d="M923.5,590.3 L928.83,594.17 L926.79,600.43 L920.21,600.43 L918.17,594.17Z" stroke-width="2.5"/>
<path d="M923.67,587.91 L928.99,591.78 L926.96,598.04 L920.38,598.04 L918.34,591.78Z" stroke-width="2.5"/>
<path d="M923.83,585.52 L929.16,589.39 L927.12,595.65 L920.54,595.65 L918.51,589.39Z" stroke-width="2.5"/>
<path d="M924,583.13 L929.33,587 L927.29,593.26 L920.71,593.26 L918.67,587Z" stroke-width="2.5"/>
<path d="M924.17,580.74 L929.49,584.61 L927.46,590.87 L920.88,590.87 L918.84,584.61Z" stroke-width="2.5"/>
<path d="M924.33,578.36 L929.66,582.23 L927.62,588.49 L921.04,588.49 L919.01,582.23Z" stroke-width="2.5"/>
<path d="M924.5,575.97 L929.83,579.84 L927.79,586.1 L921.21,586.1 L919.17,579.84Z" stroke-width="2.5"/>
<path d="M924.67,573.58 L929.99,577.45 L927.96,583.71 L921.38,583.71 L919.34,577.45Z" stroke-width="2.5"/>
<path d="M924.83,571.19 L930.16,575.06 L928.12,581.32 L921.54,581.32 L919.51,575.06Z" stroke-width="2.5"/>
<path d="M925,568.8 L930.33,572.67 L928.29,578.93 L921.71,578.93 L919.67,572.67Z" stroke-width="2.5"/>
<path d="M925.4,566.36 L930.73,570.23 L928.69,576.49 L922.11,576.49 L920.07,570.23Z" stroke-width="2.5"/>
<path d="M925.8,563.92 L931.13,567.79 L929.09,574.05 L922.51,574.05 L920.47,567.79Z" stroke-width="2.5"/>
<path d="M926.2,561.48 L931.53,565.35 L929.49,571.61 L922.91,571.61 L920.87,565.35Z" stroke-width="2.5"/>
<path d="M926.6,559.04 L931.93,562.91 L929.89,569.17 L923.31,569.17 L921.27,562.91Z" stroke-width="2.5"/>
<path d="M927,556.6 L932.33,560.47 L930.29,566.73 L923.71,566.73 L921.67,560.47Z" stroke-width="2.5"/>
<path d="M927.5,553.9 L932.83,557.77 L930.79,564.03 L924.21,564.03 L922.17,557.77Z" stroke-width="2.5"/>
<path d="M928,551.2 L933.33,555.07 L931.29,561.33 L924.71,561.33 L922.67,555.07Z" stroke-width="2.5"/>
<path d="M928.5,548.5 L933.83,552.37 L931.79,558.63 L925.21,558.63 L923.17,552.37Z" stroke-width="2.5"/>
<path d="M929,545.8 L934.33,549.67 L932.29,555.93 L925.71,555.93 L923.67,549.67Z" stroke-width="2.5"/>
<path d="M929.52,543.45 L934.85,547.32 L932.82,553.58 L926.23,553.58 L924.2,547.32Z" stroke-width="2.5"/>
<path d="M930.05,541.1 L935.38,544.97 L933.34,551.23 L926.76,551.23 L924.72,544.97Z" stroke-width="2.5"/>
<path d="M930.58,538.75 L935.9,542.62 L933.87,548.88 L927.28,548.88 L925.25,542.62Z" stroke-width="2.5"/>
<path d="M931.1,536.4 L936.43,540.27 L934.39,546.53 L927.81,546.53 L925.77,540.27Z" stroke-width="2.5"/>
</g>
<polyline points="999.8,839.1 1017.3,826.7 1024.9,814.7 1052.9,790.7 1055.5,771 1058.8,764.5 1062,756.8 1071.9,744.8 1079.5,736.1 1081.5,725.5 1086.2,722.4 1096.7,718 1105.6,711.1 1109.3,703 1110.6,693 1118.1,683.7 1124.3,676.2 1125,668.7 1130.6,663.1 1132.4,652.4 1136.2,646.2 1138.7,636.8 1138.7,628.7 1150,624.9 1152.5,617.4 1157.5,609.9 1160,602.4 1161.2,594.9 1163.7,587.4 1165,581.2 1169.5,580.5 1173.7,579.9 1176.2,575 1178.7,570 1180,562.5 1181.8,559.4 1183.7,556.2 1186.8,553.7 1190,551.2 1192.5,548.1 1195,545 1200,544.4 1205,544.4 1212.4,543.7 1217.4,543.4 1222.4,543.1 1227.4,543.1 1232.4,543.1 1237.4,543.1 1242.4,543.1 1250.6,543.1 1258.8,543.2 1263.8,542.5 1268.9,541.7" fill="none" stroke="#0a4d0a" stroke-width="1.6"/>
<g fill="#fff" stroke="#0a4d0a" stroke-width="2.2">
<path d="M999.8,833.9 L1005.13,837.77 L1003.09,844.03 L996.51,844.03 L994.47,837.77Z" stroke-width="2.5"/>
<path d="M1017.3,821.5 L1022.63,825.37 L1020.59,831.63 L1014.01,831.63 L1011.97,825.37Z" stroke-width="2.5"/>
<path d="M1024.9,809.5 L1030.23,813.37 L1028.19,819.63 L1021.61,819.63 L1019.57,813.37Z" stroke-width="2.5"/>
<path d="M1052.9,785.5 L1058.23,789.37 L1056.19,795.63 L1049.61,795.63 L1047.57,789.37Z" stroke-width="2.5"/>
<path d="M1055.5,765.8 L1060.83,769.67 L1058.79,775.93 L1052.21,775.93 L1050.17,769.67Z" stroke-width="2.5"/>
<path d="M1058.8,759.3 L1064.13,763.17 L1062.09,769.43 L1055.51,769.43 L1053.47,763.17Z" stroke-width="2.5"/>
<path d="M1062,751.6 L1067.33,755.47 L1065.29,761.73 L1058.71,761.73 L1056.67,755.47Z" stroke-width="2.5"/>
<path d="M1071.9,739.6 L1077.23,743.47 L1075.19,749.73 L1068.61,749.73 L1066.57,743.47Z" stroke-width="2.5"/>
<path d="M1079.5,730.9 L1084.83,734.77 L1082.79,741.03 L1076.21,741.03 L1074.17,734.77Z" stroke-width="2.5"/>
<path d="M1081.5,720.3 L1086.83,724.17 L1084.79,730.43 L1078.21,730.43 L1076.17,724.17Z" stroke-width="2.5"/>
<path d="M1086.2,717.2 L1091.53,721.07 L1089.49,727.33 L1082.91,727.33 L1080.87,721.07Z" stroke-width="2.5"/>
<path d="M1096.7,712.8 L1102.03,716.67 L1099.99,722.93 L1093.41,722.93 L1091.37,716.67Z" stroke-width="2.5"/>
<path d="M1105.6,705.9 L1110.93,709.77 L1108.89,716.03 L1102.31,716.03 L1100.27,709.77Z" stroke-width="2.5"/>
<path d="M1109.3,697.8 L1114.63,701.67 L1112.59,707.93 L1106.01,707.93 L1103.97,701.67Z" stroke-width="2.5"/>
<path d="M1110.6,687.8 L1115.93,691.67 L1113.89,697.93 L1107.31,697.93 L1105.27,691.67Z" stroke-width="2.5"/>
<path d="M1118.1,678.5 L1123.43,682.37 L1121.39,688.63 L1114.81,688.63 L1112.77,682.37Z" stroke-width="2.5"/>
<path d="M1124.3,671 L1129.63,674.87 L1127.59,681.13 L1121.01,681.13 L1118.97,674.87Z" stroke-width="2.5"/>
<path d="M1125,663.5 L1130.33,667.37 L1128.29,673.63 L1121.71,673.63 L1119.67,667.37Z" stroke-width="2.5"/>
<path d="M1130.6,657.9 L1135.93,661.77 L1133.89,668.03 L1127.31,668.03 L1125.27,661.77Z" stroke-width="2.5"/>
<path d="M1132.4,647.2 L1137.73,651.07 L1135.69,657.33 L1129.11,657.33 L1127.07,651.07Z" stroke-width="2.5"/>
<path d="M1136.2,641 L1141.53,644.87 L1139.49,651.13 L1132.91,651.13 L1130.87,644.87Z" stroke-width="2.5"/>
<path d="M1138.7,631.6 L1144.03,635.47 L1141.99,641.73 L1135.41,641.73 L1133.37,635.47Z" stroke-width="2.5"/>
<path d="M1138.7,623.5 L1144.03,627.37 L1141.99,633.63 L1135.41,633.63 L1133.37,627.37Z" stroke-width="2.5"/>
<path d="M1150,619.7 L1155.33,623.57 L1153.29,629.83 L1146.71,629.83 L1144.67,623.57Z" stroke-width="2.5"/>
<path d="M1152.5,612.2 L1157.83,616.07 L1155.79,622.33 L1149.21,622.33 L1147.17,616.07Z" stroke-width="2.5"/>
<path d="M1157.5,604.7 L1162.83,608.57 L1160.79,614.83 L1154.21,614.83 L1152.17,608.57Z" stroke-width="2.5"/>
<path d="M1160,597.2 L1165.33,601.07 L1163.29,607.33 L1156.71,607.33 L1154.67,601.07Z" stroke-width="2.5"/>
<path d="M1161.2,589.7 L1166.53,593.57 L1164.49,599.83 L1157.91,599.83 L1155.87,593.57Z" stroke-width="2.5"/>
<path d="M1163.7,582.2 L1169.03,586.07 L1166.99,592.33 L1160.41,592.33 L1158.37,586.07Z" stroke-width="2.5"/>
<path d="M1165,576 L1170.33,579.87 L1168.29,586.13 L1161.71,586.13 L1159.67,579.87Z" stroke-width="2.5"/>
<path d="M1169.5,575.3 L1174.83,579.17 L1172.79,585.43 L1166.21,585.43 L1164.17,579.17Z" stroke-width="2.5"/>
<path d="M1173.7,574.7 L1179.03,578.57 L1176.99,584.83 L1170.41,584.83 L1168.37,578.57Z" stroke-width="2.5"/>
<path d="M1176.2,569.8 L1181.53,573.67 L1179.49,579.93 L1172.91,579.93 L1170.87,573.67Z" stroke-width="2.5"/>
<path d="M1178.7,564.8 L1184.03,568.67 L1181.99,574.93 L1175.41,574.93 L1173.37,568.67Z" stroke-width="2.5"/>
<path d="M1180,557.3 L1185.33,561.17 L1183.29,567.43 L1176.71,567.43 L1174.67,561.17Z" stroke-width="2.5"/>
<path d="M1181.8,554.2 L1187.13,558.07 L1185.09,564.33 L1178.51,564.33 L1176.47,558.07Z" stroke-width="2.5"/>
<path d="M1183.7,551 L1189.03,554.87 L1186.99,561.13 L1180.41,561.13 L1178.37,554.87Z" stroke-width="2.5"/>
<path d="M1186.8,548.5 L1192.13,552.37 L1190.09,558.63 L1183.51,558.63 L1181.47,552.37Z" stroke-width="2.5"/>
<path d="M1190,546 L1195.33,549.87 L1193.29,556.13 L1186.71,556.13 L1184.67,549.87Z" stroke-width="2.5"/>
<path d="M1192.5,542.9 L1197.83,546.77 L1195.79,553.03 L1189.21,553.03 L1187.17,546.77Z" stroke-width="2.5"/>
<path d="M1195,539.8 L1200.33,543.67 L1198.29,549.93 L1191.71,549.93 L1189.67,543.67Z" stroke-width="2.5"/>
<path d="M1200,539.2 L1205.33,543.07 L1203.29,549.33 L1196.71,549.33 L1194.67,543.07Z" stroke-width="2.5"/>
<path d="M1205,539.2 L1210.33,543.07 L1208.29,549.33 L1201.71,549.33 L1199.67,543.07Z" stroke-width="2.5"/>
<path d="M1212.4,538.5 L1217.73,542.37 L1215.69,548.63 L1209.11,548.63 L1207.07,542.37Z" stroke-width="2.5"/>
<path d="M1217.4,538.2 L1222.73,542.07 L1220.69,548.33 L1214.11,548.33 L1212.07,542.07Z" stroke-width="2.5"/>
<path d="M1222.4,537.9 L1227.73,541.77 L1225.69,548.03 L1219.11,548.03 L1217.07,541.77Z" stroke-width="2.5"/>
<path d="M1227.4,537.9 L1232.73,541.77 L1230.69,548.03 L1224.11,548.03 L1222.07,541.77Z" stroke-width="2.5"/>
<path d="M1232.4,537.9 L1237.73,541.77 L1235.69,548.03 L1229.11,548.03 L1227.07,541.77Z" stroke-width="2.5"/>
<path d="M1237.4,537.9 L1242.73,541.77 L1240.69,548.03 L1234.11,548.03 L1232.07,541.77Z" stroke-width="2.5"/>
<path d="M1242.4,537.9 L1247.73,541.77 L1245.69,548.03 L1239.11,548.03 L1237.07,541.77Z" stroke-width="2.5"/>
<path d="M1250.6,537.9 L1255.93,541.77 L1253.89,548.03 L1247.31,548.03 L1245.27,541.77Z" stroke-width="2.5"/>
<path d="M1258.8,538 L1264.13,541.87 L1262.09,548.13 L1255.51,548.13 L1253.47,541.87Z" stroke-width="2.5"/>
<path d="M1263.8,537.3 L1269.13,541.17 L1267.09,547.43 L1260.51,547.43 L1258.47,541.17Z" stroke-width="2.5"/>
<path d="M1268.9,536.5 L1274.23,540.37 L1272.19,546.63 L1265.61,546.63 L1263.57,540.37Z" stroke-width="2.5"/>
</g>
</g>
<rect x="847.5" y="507.5" width="574.7" height="368.9" fill="none" stroke="#484848" stroke-width="1.9"/>
<path d="M847.5,846.3h8M1422.2,846.3h-8M847.5,784.6h8M1422.2,784.6h-8M847.5,722.9h8M1422.2,722.9h-8M847.5,661.2h8M1422.2,661.2h-8M847.5,599.5h8M1422.2,599.5h-8M847.5,537.8h8M1422.2,537.8h-8M847.5,815.45h4M1422.2,815.45h-4M847.5,753.75h4M1422.2,753.75h-4M847.5,692.05h4M1422.2,692.05h-4M847.5,630.35h4M1422.2,630.35h-4M847.5,568.65h4M1422.2,568.65h-4M924.66,876.4v-4.5M924.66,507.5v4.5M980.01,876.4v-4.5M980.01,507.5v4.5M1022.94,876.4v-4.5M1022.94,507.5v4.5M1058.02,876.4v-4.5M1058.02,507.5v4.5M1087.68,876.4v-4.5M1087.68,507.5v4.5M1113.37,876.4v-4.5M1113.37,507.5v4.5M1136.03,876.4v-4.5M1136.03,507.5v4.5M1289.66,876.4v-4.5M1289.66,507.5v4.5M1367.66,876.4v-4.5M1367.66,507.5v4.5M1156.3,876.4v-8.5M1156.3,507.5v8.5" stroke="#404040" stroke-width="1.8" fill="none"/>
<g font-family='"Liberation Sans", sans-serif' font-weight="bold" fill="#000">
<text x="838.7" y="853.2" font-size="25" text-anchor="end">0</text>
<text x="838.7" y="791.5" font-size="25" text-anchor="end">20</text>
<text x="838.7" y="729.8" font-size="25" text-anchor="end">40</text>
<text x="838.7" y="668.1" font-size="25" text-anchor="end">60</text>
<text x="838.7" y="606.4" font-size="25" text-anchor="end">80</text>
<text x="838.7" y="544.7" font-size="25" text-anchor="end">100</text>
<text x="1137.2" y="909.4" font-size="23" textLength="26.7" lengthAdjust="spacingAndGlyphs">10</text>
<text x="1166.3" y="897.3" font-size="14.5">4</text>
<text x="1134.1" y="951.0" font-size="29.5" text-anchor="middle" textLength="228" lengthAdjust="spacingAndGlyphs">Resistance (&#937;)</text>
<text transform="translate(779.7,712.2) rotate(-90)" font-size="35.5" text-anchor="middle" textLength="416.8" lengthAdjust="spacingAndGlyphs">Cumulative probability (%)</text>
<text x="942.9" y="531.5" font-size="21" fill="#ff1a1a" textLength="44" lengthAdjust="spacingAndGlyphs">LRS</text>
<text x="1239.9" y="531.5" font-size="21" fill="#ff1a1a" textLength="47.1" lengthAdjust="spacingAndGlyphs">HRS</text>
<line x1="1280.4" y1="765.9" x2="1321.9" y2="765.9" stroke="#222" stroke-width="1.7"/>
<g fill="#fff" stroke="#000" stroke-width="2.7"><circle cx="1300.5" cy="765.9" r="4.9"/></g>
<text x="1327.2" y="771.2" font-size="22" textLength="28.99" lengthAdjust="spacingAndGlyphs">H5</text>
<line x1="1280.4" y1="794.65" x2="1321.9" y2="794.65" stroke="#ff9a40" stroke-width="1.7"/>
<g fill="#fff" stroke="#FF8000" stroke-width="2.7"><rect x="1295.9" y="790.05" width="9.2" height="9.2"/></g>
<text x="1327.2" y="800.05" font-size="22" textLength="76.9" lengthAdjust="spacingAndGlyphs">H2A1.5</text>
<line x1="1280.4" y1="823.4" x2="1321.9" y2="823.4" stroke="#a0a040" stroke-width="1.7"/>
<g fill="#fff" stroke="#808000" stroke-width="2.7"><path d="M1300.5,817.6 L1306.3,823.4 L1300.5,829.2 L1294.7,823.4 Z"/></g>
<text x="1327.2" y="828.9" font-size="22" textLength="76.9" lengthAdjust="spacingAndGlyphs">H3A1.5</text>
<line x1="1280.4" y1="852.15" x2="1321.9" y2="852.15" stroke="#2a6a2a" stroke-width="1.7"/>
<g fill="#fff" stroke="#0a4d0a" stroke-width="2.7"><path d="M1300.5,846.95 L1305.83,850.82 L1303.79,857.08 L1297.21,857.08 L1295.17,850.82Z" stroke-width="2.5"/></g>
<text x="1327.2" y="857.75" font-size="22" textLength="76.9" lengthAdjust="spacingAndGlyphs">H4A1.5</text>
</g>
<g fill="#fff"><rect x="60.42" y="380.25" width="5.5" height="4.75"/><rect x="69.88" y="380.25" width="5.36" height="4.75"/><rect x="333.41" y="447.32" width="5.33" height="4.48"/><rect x="342.58" y="447.32" width="5.2" height="4.48"/><rect x="476.58" y="447.32" width="5.33" height="4.48"/><rect x="485.75" y="447.32" width="5.2" height="4.48"/><rect x="619.75" y="447.32" width="5.33" height="4.48"/><rect x="628.92" y="447.32" width="5.2" height="4.48"/><rect x="826.33" y="402.49" width="5.6" height="4.82"/><rect x="835.96" y="402.49" width="5.45" height="4.82"/><rect x="1074.4" y="447.82" width="5.31" height="4.48"/><rect x="1083.53" y="447.82" width="5.17" height="4.48"/><rect x="1217.1" y="447.82" width="5.31" height="4.48"/><rect x="1226.23" y="447.82" width="5.17" height="4.48"/><rect x="1359.8" y="447.82" width="5.31" height="4.48"/><rect x="1368.93" y="447.82" width="5.17" height="4.48"/><rect x="71.47" y="610.19" width="5.31" height="4.61"/><rect x="80.6" y="610.19" width="5.17" height="4.61"/><rect x="71.47" y="559.89" width="5.31" height="4.61"/><rect x="80.6" y="559.89" width="5.17" height="4.61"/><rect x="94.41" y="559.89" width="5.31" height="4.61"/><rect x="103.54" y="559.89" width="5.17" height="4.61"/><rect x="71.47" y="509.59" width="5.31" height="4.61"/><rect x="80.6" y="509.59" width="5.17" height="4.61"/><rect x="333.71" y="933.89" width="5.17" height="4.41"/><rect x="342.6" y="933.89" width="5.03" height="4.41"/><rect x="470.88" y="933.89" width="5.17" height="4.41"/><rect x="479.77" y="933.89" width="5.03" height="4.41"/><rect x="608.05" y="933.89" width="5.17" height="4.41"/><rect x="616.94" y="933.89" width="5.03" height="4.41"/><rect x="797.99" y="541.32" width="4.83" height="4.28"/><rect x="806.29" y="541.32" width="4.7" height="4.28"/><rect x="1138.16" y="906.29" width="4.63" height="4.01"/><rect x="1146.13" y="906.29" width="4.51" height="4.01"/><rect x="1373.48" y="797.08" width="4.38" height="3.87"/><rect x="1381.01" y="797.08" width="4.26" height="3.87"/><rect x="1373.48" y="825.93" width="4.38" height="3.87"/><rect x="1381.01" y="825.93" width="4.26" height="3.87"/><rect x="1373.48" y="854.78" width="4.38" height="3.87"/><rect x="1381.01" y="854.78" width="4.26" height="3.87"/></g>
</svg>
</body></html>
